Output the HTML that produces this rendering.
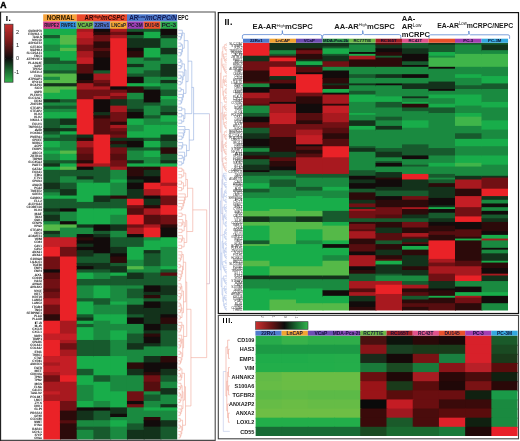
<!DOCTYPE html><html><head><meta charset="utf-8"><style>html,body{margin:0;padding:0;background:#fff;width:520px;height:441px;overflow:hidden}svg{display:block}</style></head><body><svg width="520" height="441" viewBox="0 0 520 441" font-family="'Liberation Sans', Arial, sans-serif">
<rect width="520" height="441" fill="#fff"/>
<defs><linearGradient id="cb1" x1="0" y1="0" x2="0" y2="1"><stop offset="0" stop-color="#c9302f"/><stop offset="0.3" stop-color="#7a1a1a"/><stop offset="0.59" stop-color="#0c0c0c"/><stop offset="0.8" stop-color="#1a6a30"/><stop offset="1" stop-color="#33b44c"/></linearGradient><linearGradient id="cb3" x1="0" y1="0" x2="1" y2="0"><stop offset="0" stop-color="#c9302f"/><stop offset="0.3" stop-color="#6a1616"/><stop offset="0.55" stop-color="#0c0c0c"/><stop offset="0.78" stop-color="#1a6a30"/><stop offset="1" stop-color="#33b44c"/></linearGradient></defs>
<text x="0.3" y="7.6" font-size="8.6" font-weight="bold" fill="#000" stroke="#000" stroke-width="0.45">A</text>
<text x="5.75 8.5" y="20.7" font-size="8" font-weight="bold" fill="#000" stroke="#000" stroke-width="0.15">I.</text>
<rect x="4.6" y="24.2" width="8.4" height="58" fill="url(#cb1)" stroke="#333" stroke-width="0.7"/>
<text x="16" y="34.3" font-size="5.6" fill="#222">2</text>
<rect x="4.6" y="32" width="1.2" height="0.5" fill="#444"/>
<rect x="11.8" y="32" width="1.2" height="0.5" fill="#444"/>
<text x="16" y="47.4" font-size="5.6" fill="#222">1</text>
<rect x="4.6" y="45.1" width="1.2" height="0.5" fill="#444"/>
<rect x="11.8" y="45.1" width="1.2" height="0.5" fill="#444"/>
<text x="16" y="60.4" font-size="5.6" fill="#222">0</text>
<rect x="4.6" y="58.1" width="1.2" height="0.5" fill="#444"/>
<rect x="11.8" y="58.1" width="1.2" height="0.5" fill="#444"/>
<text x="14.2" y="74" font-size="5.6" fill="#222">-1</text>
<rect x="4.6" y="71.7" width="1.2" height="0.5" fill="#444"/>
<rect x="11.8" y="71.7" width="1.2" height="0.5" fill="#444"/>
<rect x="43.2" y="14.3" width="33.6" height="7.2" fill="#f6a23a"/>
<rect x="76.7" y="14.3" width="50.4" height="7.2" fill="#ec4a2c"/>
<rect x="127" y="14.3" width="50.2" height="7.2" fill="#4f7bcc"/>
<text x="60.5" y="20.4" font-size="6.3" font-weight="bold" text-anchor="middle" fill="#2a1a00" textLength="27.6" lengthAdjust="spacingAndGlyphs">NORMAL</text>
<text x="84.6" y="20.4" font-size="6.3" font-weight="bold" fill="#300606" textLength="40" lengthAdjust="spacingAndGlyphs">AR<tspan font-size="3.4" dy="-2.5">High</tspan><tspan dy="2.5" font-style="italic">/mCSPC</tspan></text>
<text x="129.2" y="20.4" font-size="6.3" font-weight="bold" fill="#121850" textLength="47.6" lengthAdjust="spacingAndGlyphs">AR<tspan font-size="3.4" dy="-2.5">Low</tspan><tspan dy="2.5" font-style="italic">/mCRPC/N</tspan></text>
<text x="177.9" y="20.4" font-size="6.3" font-weight="bold" fill="#111" textLength="10.6" lengthAdjust="spacingAndGlyphs">EPC</text>
<rect x="43.2" y="21.5" width="16.8" height="7.6" fill="#d63d8e"/>
<text x="51.58" y="27.3" font-size="4.8" font-weight="bold" text-anchor="middle" fill="#1a1a2a" textLength="14.8" lengthAdjust="spacingAndGlyphs">RWPE2</text>
<rect x="59.95" y="21.5" width="16.8" height="7.6" fill="#2f8fdc"/>
<text x="68.33" y="27.3" font-size="4.8" font-weight="bold" text-anchor="middle" fill="#1a1a2a" textLength="14.8" lengthAdjust="spacingAndGlyphs">RWPE1</text>
<rect x="76.7" y="21.5" width="16.8" height="7.6" fill="#6cb946"/>
<text x="85.08" y="27.3" font-size="4.8" font-weight="bold" text-anchor="middle" fill="#1a1a2a" textLength="14.8" lengthAdjust="spacingAndGlyphs">VCAP</text>
<rect x="93.45" y="21.5" width="16.8" height="7.6" fill="#4d72c8"/>
<text x="101.83" y="27.3" font-size="4.8" font-weight="bold" text-anchor="middle" fill="#1a1a2a" textLength="14.8" lengthAdjust="spacingAndGlyphs">22Rv1</text>
<rect x="110.2" y="21.5" width="16.8" height="7.6" fill="#f2a431"/>
<text x="118.58" y="27.3" font-size="4.8" font-weight="bold" text-anchor="middle" fill="#1a1a2a" textLength="14.8" lengthAdjust="spacingAndGlyphs">LNCaP</text>
<rect x="126.95" y="21.5" width="16.8" height="7.6" fill="#9a3db2"/>
<text x="135.32" y="27.3" font-size="4.8" font-weight="bold" text-anchor="middle" fill="#1a1a2a" textLength="14.8" lengthAdjust="spacingAndGlyphs">PC-3M</text>
<rect x="143.7" y="21.5" width="16.8" height="7.6" fill="#e9502b"/>
<text x="152.07" y="27.3" font-size="4.8" font-weight="bold" text-anchor="middle" fill="#1a1a2a" textLength="14.8" lengthAdjust="spacingAndGlyphs">DU145</text>
<rect x="160.45" y="21.5" width="16.8" height="7.6" fill="#2aa84c"/>
<text x="168.82" y="27.3" font-size="4.8" font-weight="bold" text-anchor="middle" fill="#1a1a2a" textLength="14.8" lengthAdjust="spacingAndGlyphs">PC-3</text>
<clipPath id="c432"><rect x="43.2" y="28.6" width="134" height="410.9"/></clipPath><g clip-path="url(#c432)">
<rect x="43.2" y="28.6" width="17.75" height="7.42" fill="#18ad4a"/>
<rect x="43.2" y="35.02" width="17.75" height="4.21" fill="#175a2d"/>
<rect x="43.2" y="38.23" width="17.75" height="7.42" fill="#18ad4a"/>
<rect x="43.2" y="44.65" width="17.75" height="7.42" fill="#1a8a40"/>
<rect x="43.2" y="51.07" width="17.75" height="7.42" fill="#18ad4a"/>
<rect x="43.2" y="57.49" width="17.75" height="7.42" fill="#175a2d"/>
<rect x="43.2" y="63.91" width="17.75" height="7.42" fill="#1a8a40"/>
<rect x="43.2" y="70.33" width="17.75" height="4.21" fill="#175a2d"/>
<rect x="43.2" y="73.54" width="17.75" height="4.21" fill="#55b948"/>
<rect x="43.2" y="76.75" width="17.75" height="4.21" fill="#1a8a40"/>
<rect x="43.2" y="79.96" width="17.75" height="4.21" fill="#55b948"/>
<rect x="43.2" y="83.17" width="17.75" height="4.21" fill="#13321b"/>
<rect x="43.2" y="86.38" width="17.75" height="7.42" fill="#55b948"/>
<rect x="43.2" y="92.8" width="17.75" height="7.42" fill="#18ad4a"/>
<rect x="43.2" y="99.22" width="17.75" height="4.21" fill="#13321b"/>
<rect x="43.2" y="102.43" width="17.75" height="4.21" fill="#1a8a40"/>
<rect x="43.2" y="105.64" width="17.75" height="4.21" fill="#175a2d"/>
<rect x="43.2" y="108.85" width="17.75" height="4.21" fill="#1a8a40"/>
<rect x="43.2" y="112.06" width="17.75" height="7.42" fill="#18ad4a"/>
<rect x="43.2" y="118.48" width="17.75" height="10.63" fill="#175a2d"/>
<rect x="43.2" y="128.11" width="17.75" height="4.21" fill="#13321b"/>
<rect x="43.2" y="131.32" width="17.75" height="4.21" fill="#175a2d"/>
<rect x="43.2" y="134.53" width="17.75" height="4.21" fill="#1a8a40"/>
<rect x="43.2" y="137.74" width="17.75" height="4.21" fill="#175a2d"/>
<rect x="43.2" y="140.95" width="17.75" height="7.42" fill="#18ad4a"/>
<rect x="43.2" y="147.37" width="17.75" height="4.21" fill="#1a8a40"/>
<rect x="43.2" y="150.58" width="17.75" height="4.21" fill="#18ad4a"/>
<rect x="43.2" y="153.79" width="17.75" height="7.42" fill="#1a8a40"/>
<rect x="43.2" y="160.21" width="17.75" height="4.21" fill="#175a2d"/>
<rect x="43.2" y="163.42" width="17.75" height="4.21" fill="#13321b"/>
<rect x="43.2" y="166.63" width="17.75" height="4.21" fill="#18ad4a"/>
<rect x="43.2" y="169.84" width="17.75" height="13.84" fill="#175a2d"/>
<rect x="43.2" y="182.68" width="17.75" height="7.42" fill="#13321b"/>
<rect x="43.2" y="189.1" width="17.75" height="4.21" fill="#175a2d"/>
<rect x="43.2" y="192.31" width="17.75" height="4.21" fill="#1a8a40"/>
<rect x="43.2" y="195.52" width="17.75" height="4.21" fill="#18ad4a"/>
<rect x="43.2" y="198.73" width="17.75" height="10.63" fill="#175a2d"/>
<rect x="43.2" y="208.36" width="17.75" height="4.21" fill="#13321b"/>
<rect x="43.2" y="211.57" width="17.75" height="4.21" fill="#175a2d"/>
<rect x="43.2" y="214.78" width="17.75" height="7.42" fill="#13321b"/>
<rect x="43.2" y="221.2" width="17.75" height="4.21" fill="#1a8a40"/>
<rect x="43.2" y="224.41" width="17.75" height="7.42" fill="#55b948"/>
<rect x="43.2" y="230.83" width="17.75" height="4.21" fill="#13321b"/>
<rect x="43.2" y="234.04" width="17.75" height="4.21" fill="#175a2d"/>
<rect x="43.2" y="237.25" width="17.75" height="10.63" fill="#c41e25"/>
<rect x="43.2" y="246.88" width="17.75" height="10.63" fill="#ea2227"/>
<rect x="43.2" y="256.51" width="17.75" height="13.84" fill="#711014"/>
<rect x="43.2" y="269.35" width="17.75" height="4.21" fill="#120b0b"/>
<rect x="43.2" y="272.56" width="17.75" height="7.42" fill="#560d0f"/>
<rect x="43.2" y="278.98" width="17.75" height="10.63" fill="#711014"/>
<rect x="43.2" y="288.61" width="17.75" height="4.21" fill="#560d0f"/>
<rect x="43.2" y="291.82" width="17.75" height="7.42" fill="#711014"/>
<rect x="43.2" y="298.24" width="17.75" height="7.42" fill="#a8191f"/>
<rect x="43.2" y="304.66" width="17.75" height="10.63" fill="#711014"/>
<rect x="43.2" y="314.29" width="17.75" height="7.42" fill="#2c0a0a"/>
<rect x="43.2" y="320.71" width="17.75" height="13.84" fill="#ea2227"/>
<rect x="43.2" y="333.55" width="17.75" height="7.42" fill="#c41e25"/>
<rect x="43.2" y="339.97" width="17.75" height="17.05" fill="#ea2227"/>
<rect x="43.2" y="356.02" width="17.75" height="7.42" fill="#c41e25"/>
<rect x="43.2" y="362.44" width="17.75" height="4.21" fill="#a8191f"/>
<rect x="43.2" y="365.65" width="17.75" height="7.42" fill="#c41e25"/>
<rect x="43.2" y="372.07" width="17.75" height="4.21" fill="#a8191f"/>
<rect x="43.2" y="375.28" width="17.75" height="7.42" fill="#711014"/>
<rect x="43.2" y="381.7" width="17.75" height="10.63" fill="#a8191f"/>
<rect x="43.2" y="391.33" width="17.75" height="4.21" fill="#c41e25"/>
<rect x="43.2" y="394.54" width="17.75" height="7.42" fill="#a8191f"/>
<rect x="43.2" y="400.96" width="17.75" height="39.52" fill="#ea2227"/>
<rect x="59.95" y="28.6" width="17.75" height="7.42" fill="#18ad4a"/>
<rect x="59.95" y="35.02" width="17.75" height="10.63" fill="#55b948"/>
<rect x="59.95" y="44.65" width="17.75" height="4.21" fill="#18ad4a"/>
<rect x="59.95" y="47.86" width="17.75" height="4.21" fill="#55b948"/>
<rect x="59.95" y="51.07" width="17.75" height="10.63" fill="#18ad4a"/>
<rect x="59.95" y="60.7" width="17.75" height="4.21" fill="#175a2d"/>
<rect x="59.95" y="63.91" width="17.75" height="7.42" fill="#1a8a40"/>
<rect x="59.95" y="70.33" width="17.75" height="4.21" fill="#175a2d"/>
<rect x="59.95" y="73.54" width="17.75" height="10.63" fill="#55b948"/>
<rect x="59.95" y="83.17" width="17.75" height="4.21" fill="#13321b"/>
<rect x="59.95" y="86.38" width="17.75" height="4.21" fill="#55b948"/>
<rect x="59.95" y="89.59" width="17.75" height="10.63" fill="#18ad4a"/>
<rect x="59.95" y="99.22" width="17.75" height="4.21" fill="#175a2d"/>
<rect x="59.95" y="102.43" width="17.75" height="4.21" fill="#1a8a40"/>
<rect x="59.95" y="105.64" width="17.75" height="4.21" fill="#175a2d"/>
<rect x="59.95" y="108.85" width="17.75" height="4.21" fill="#1a8a40"/>
<rect x="59.95" y="112.06" width="17.75" height="7.42" fill="#18ad4a"/>
<rect x="59.95" y="118.48" width="17.75" height="7.42" fill="#13321b"/>
<rect x="59.95" y="124.9" width="17.75" height="4.21" fill="#1a8a40"/>
<rect x="59.95" y="128.11" width="17.75" height="4.21" fill="#13321b"/>
<rect x="59.95" y="131.32" width="17.75" height="4.21" fill="#18ad4a"/>
<rect x="59.95" y="134.53" width="17.75" height="7.42" fill="#175a2d"/>
<rect x="59.95" y="140.95" width="17.75" height="10.63" fill="#1a8a40"/>
<rect x="59.95" y="150.58" width="17.75" height="4.21" fill="#55b948"/>
<rect x="59.95" y="153.79" width="17.75" height="7.42" fill="#18ad4a"/>
<rect x="59.95" y="160.21" width="17.75" height="4.21" fill="#175a2d"/>
<rect x="59.95" y="163.42" width="17.75" height="4.21" fill="#18ad4a"/>
<rect x="59.95" y="166.63" width="17.75" height="4.21" fill="#55b948"/>
<rect x="59.95" y="169.84" width="17.75" height="7.42" fill="#175a2d"/>
<rect x="59.95" y="176.26" width="17.75" height="7.42" fill="#1a8a40"/>
<rect x="59.95" y="182.68" width="17.75" height="7.42" fill="#175a2d"/>
<rect x="59.95" y="189.1" width="17.75" height="7.42" fill="#13321b"/>
<rect x="59.95" y="195.52" width="17.75" height="4.21" fill="#18ad4a"/>
<rect x="59.95" y="198.73" width="17.75" height="10.63" fill="#175a2d"/>
<rect x="59.95" y="208.36" width="17.75" height="4.21" fill="#120b0b"/>
<rect x="59.95" y="211.57" width="17.75" height="10.63" fill="#1a8a40"/>
<rect x="59.95" y="221.2" width="17.75" height="4.21" fill="#120b0b"/>
<rect x="59.95" y="224.41" width="17.75" height="4.21" fill="#55b948"/>
<rect x="59.95" y="227.62" width="17.75" height="10.63" fill="#1a8a40"/>
<rect x="59.95" y="237.25" width="17.75" height="10.63" fill="#c41e25"/>
<rect x="59.95" y="246.88" width="17.75" height="10.63" fill="#711014"/>
<rect x="59.95" y="256.51" width="17.75" height="65.2" fill="#ea2227"/>
<rect x="59.95" y="320.71" width="17.75" height="13.84" fill="#a8191f"/>
<rect x="59.95" y="333.55" width="17.75" height="7.42" fill="#c41e25"/>
<rect x="59.95" y="339.97" width="17.75" height="4.21" fill="#a8191f"/>
<rect x="59.95" y="343.18" width="17.75" height="7.42" fill="#711014"/>
<rect x="59.95" y="349.6" width="17.75" height="7.42" fill="#a8191f"/>
<rect x="59.95" y="356.02" width="17.75" height="20.26" fill="#c41e25"/>
<rect x="59.95" y="375.28" width="17.75" height="7.42" fill="#ea2227"/>
<rect x="59.95" y="381.7" width="17.75" height="20.26" fill="#a8191f"/>
<rect x="59.95" y="400.96" width="17.75" height="10.63" fill="#711014"/>
<rect x="59.95" y="410.59" width="17.75" height="10.63" fill="#2c0a0a"/>
<rect x="59.95" y="420.22" width="17.75" height="4.21" fill="#560d0f"/>
<rect x="59.95" y="423.43" width="17.75" height="17.05" fill="#2c0a0a"/>
<rect x="76.7" y="28.6" width="17.75" height="4.21" fill="#a8191f"/>
<rect x="76.7" y="31.81" width="17.75" height="7.42" fill="#c41e25"/>
<rect x="76.7" y="38.23" width="17.75" height="7.42" fill="#a8191f"/>
<rect x="76.7" y="44.65" width="17.75" height="7.42" fill="#711014"/>
<rect x="76.7" y="51.07" width="17.75" height="7.42" fill="#a8191f"/>
<rect x="76.7" y="57.49" width="17.75" height="7.42" fill="#c41e25"/>
<rect x="76.7" y="63.91" width="17.75" height="10.63" fill="#560d0f"/>
<rect x="76.7" y="73.54" width="17.75" height="7.42" fill="#120b0b"/>
<rect x="76.7" y="79.96" width="17.75" height="4.21" fill="#2c0a0a"/>
<rect x="76.7" y="83.17" width="17.75" height="7.42" fill="#a8191f"/>
<rect x="76.7" y="89.59" width="17.75" height="10.63" fill="#711014"/>
<rect x="76.7" y="99.22" width="17.75" height="36.31" fill="#ea2227"/>
<rect x="76.7" y="134.53" width="17.75" height="4.21" fill="#13321b"/>
<rect x="76.7" y="137.74" width="17.75" height="4.21" fill="#2c0a0a"/>
<rect x="76.7" y="140.95" width="17.75" height="7.42" fill="#a8191f"/>
<rect x="76.7" y="147.37" width="17.75" height="7.42" fill="#711014"/>
<rect x="76.7" y="153.79" width="17.75" height="7.42" fill="#560d0f"/>
<rect x="76.7" y="160.21" width="17.75" height="4.21" fill="#2c0a0a"/>
<rect x="76.7" y="163.42" width="17.75" height="4.21" fill="#a8191f"/>
<rect x="76.7" y="166.63" width="17.75" height="4.21" fill="#120b0b"/>
<rect x="76.7" y="169.84" width="17.75" height="7.42" fill="#175a2d"/>
<rect x="76.7" y="176.26" width="17.75" height="4.21" fill="#13321b"/>
<rect x="76.7" y="179.47" width="17.75" height="4.21" fill="#1a8a40"/>
<rect x="76.7" y="182.68" width="17.75" height="20.26" fill="#18ad4a"/>
<rect x="76.7" y="201.94" width="17.75" height="7.42" fill="#175a2d"/>
<rect x="76.7" y="208.36" width="17.75" height="17.05" fill="#18ad4a"/>
<rect x="76.7" y="224.41" width="17.75" height="4.21" fill="#13321b"/>
<rect x="76.7" y="227.62" width="17.75" height="7.42" fill="#1a8a40"/>
<rect x="76.7" y="234.04" width="17.75" height="4.21" fill="#120b0b"/>
<rect x="76.7" y="237.25" width="17.75" height="4.21" fill="#2c0a0a"/>
<rect x="76.7" y="240.46" width="17.75" height="4.21" fill="#120b0b"/>
<rect x="76.7" y="243.67" width="17.75" height="4.21" fill="#13321b"/>
<rect x="76.7" y="246.88" width="17.75" height="4.21" fill="#120b0b"/>
<rect x="76.7" y="250.09" width="17.75" height="7.42" fill="#13321b"/>
<rect x="76.7" y="256.51" width="17.75" height="7.42" fill="#175a2d"/>
<rect x="76.7" y="262.93" width="17.75" height="4.21" fill="#13321b"/>
<rect x="76.7" y="266.14" width="17.75" height="4.21" fill="#120b0b"/>
<rect x="76.7" y="269.35" width="17.75" height="4.21" fill="#175a2d"/>
<rect x="76.7" y="272.56" width="17.75" height="7.42" fill="#18ad4a"/>
<rect x="76.7" y="278.98" width="17.75" height="7.42" fill="#175a2d"/>
<rect x="76.7" y="285.4" width="17.75" height="13.84" fill="#1a8a40"/>
<rect x="76.7" y="298.24" width="17.75" height="4.21" fill="#175a2d"/>
<rect x="76.7" y="301.45" width="17.75" height="13.84" fill="#18ad4a"/>
<rect x="76.7" y="314.29" width="17.75" height="4.21" fill="#175a2d"/>
<rect x="76.7" y="317.5" width="17.75" height="4.21" fill="#13321b"/>
<rect x="76.7" y="320.71" width="17.75" height="4.21" fill="#18ad4a"/>
<rect x="76.7" y="323.92" width="17.75" height="4.21" fill="#175a2d"/>
<rect x="76.7" y="327.13" width="17.75" height="13.84" fill="#18ad4a"/>
<rect x="76.7" y="339.97" width="17.75" height="17.05" fill="#175a2d"/>
<rect x="76.7" y="356.02" width="17.75" height="13.84" fill="#18ad4a"/>
<rect x="76.7" y="368.86" width="17.75" height="7.42" fill="#175a2d"/>
<rect x="76.7" y="375.28" width="17.75" height="10.63" fill="#18ad4a"/>
<rect x="76.7" y="384.91" width="17.75" height="17.05" fill="#1a8a40"/>
<rect x="76.7" y="400.96" width="17.75" height="7.42" fill="#18ad4a"/>
<rect x="76.7" y="407.38" width="17.75" height="4.21" fill="#120b0b"/>
<rect x="76.7" y="410.59" width="17.75" height="10.63" fill="#13321b"/>
<rect x="76.7" y="420.22" width="17.75" height="7.42" fill="#1a8a40"/>
<rect x="76.7" y="426.64" width="17.75" height="4.21" fill="#175a2d"/>
<rect x="76.7" y="429.85" width="17.75" height="10.63" fill="#1a8a40"/>
<rect x="93.45" y="28.6" width="17.75" height="4.21" fill="#120b0b"/>
<rect x="93.45" y="31.81" width="17.75" height="4.21" fill="#2c0a0a"/>
<rect x="93.45" y="35.02" width="17.75" height="7.42" fill="#711014"/>
<rect x="93.45" y="41.44" width="17.75" height="7.42" fill="#2c0a0a"/>
<rect x="93.45" y="47.86" width="17.75" height="4.21" fill="#560d0f"/>
<rect x="93.45" y="51.07" width="17.75" height="7.42" fill="#2c0a0a"/>
<rect x="93.45" y="57.49" width="17.75" height="13.84" fill="#120b0b"/>
<rect x="93.45" y="70.33" width="17.75" height="4.21" fill="#175a2d"/>
<rect x="93.45" y="73.54" width="17.75" height="7.42" fill="#a8191f"/>
<rect x="93.45" y="79.96" width="17.75" height="4.21" fill="#711014"/>
<rect x="93.45" y="83.17" width="17.75" height="4.21" fill="#560d0f"/>
<rect x="93.45" y="86.38" width="17.75" height="4.21" fill="#a8191f"/>
<rect x="93.45" y="89.59" width="17.75" height="7.42" fill="#711014"/>
<rect x="93.45" y="96.01" width="17.75" height="4.21" fill="#a8191f"/>
<rect x="93.45" y="99.22" width="17.75" height="13.84" fill="#120b0b"/>
<rect x="93.45" y="112.06" width="17.75" height="4.21" fill="#13321b"/>
<rect x="93.45" y="115.27" width="17.75" height="4.21" fill="#2c0a0a"/>
<rect x="93.45" y="118.48" width="17.75" height="17.05" fill="#560d0f"/>
<rect x="93.45" y="134.53" width="17.75" height="29.89" fill="#ea2227"/>
<rect x="93.45" y="163.42" width="17.75" height="4.21" fill="#a8191f"/>
<rect x="93.45" y="166.63" width="17.75" height="17.05" fill="#175a2d"/>
<rect x="93.45" y="182.68" width="17.75" height="13.84" fill="#18ad4a"/>
<rect x="93.45" y="195.52" width="17.75" height="7.42" fill="#13321b"/>
<rect x="93.45" y="201.94" width="17.75" height="7.42" fill="#175a2d"/>
<rect x="93.45" y="208.36" width="17.75" height="17.05" fill="#18ad4a"/>
<rect x="93.45" y="224.41" width="17.75" height="7.42" fill="#120b0b"/>
<rect x="93.45" y="230.83" width="17.75" height="4.21" fill="#175a2d"/>
<rect x="93.45" y="234.04" width="17.75" height="4.21" fill="#13321b"/>
<rect x="93.45" y="237.25" width="17.75" height="17.05" fill="#120b0b"/>
<rect x="93.45" y="253.3" width="17.75" height="10.63" fill="#175a2d"/>
<rect x="93.45" y="262.93" width="17.75" height="7.42" fill="#13321b"/>
<rect x="93.45" y="269.35" width="17.75" height="4.21" fill="#175a2d"/>
<rect x="93.45" y="272.56" width="17.75" height="7.42" fill="#1a8a40"/>
<rect x="93.45" y="278.98" width="17.75" height="7.42" fill="#175a2d"/>
<rect x="93.45" y="285.4" width="17.75" height="13.84" fill="#18ad4a"/>
<rect x="93.45" y="298.24" width="17.75" height="7.42" fill="#175a2d"/>
<rect x="93.45" y="304.66" width="17.75" height="10.63" fill="#1a8a40"/>
<rect x="93.45" y="314.29" width="17.75" height="7.42" fill="#18ad4a"/>
<rect x="93.45" y="320.71" width="17.75" height="20.26" fill="#1a8a40"/>
<rect x="93.45" y="339.97" width="17.75" height="17.05" fill="#175a2d"/>
<rect x="93.45" y="356.02" width="17.75" height="20.26" fill="#18ad4a"/>
<rect x="93.45" y="375.28" width="17.75" height="7.42" fill="#175a2d"/>
<rect x="93.45" y="381.7" width="17.75" height="20.26" fill="#18ad4a"/>
<rect x="93.45" y="400.96" width="17.75" height="7.42" fill="#1a8a40"/>
<rect x="93.45" y="407.38" width="17.75" height="4.21" fill="#120b0b"/>
<rect x="93.45" y="410.59" width="17.75" height="10.63" fill="#175a2d"/>
<rect x="93.45" y="420.22" width="17.75" height="7.42" fill="#1a8a40"/>
<rect x="93.45" y="426.64" width="17.75" height="13.84" fill="#175a2d"/>
<rect x="110.2" y="28.6" width="17.75" height="4.21" fill="#a8191f"/>
<rect x="110.2" y="31.81" width="17.75" height="4.21" fill="#711014"/>
<rect x="110.2" y="35.02" width="17.75" height="4.21" fill="#a8191f"/>
<rect x="110.2" y="38.23" width="17.75" height="49.15" fill="#ea2227"/>
<rect x="110.2" y="86.38" width="17.75" height="4.21" fill="#120b0b"/>
<rect x="110.2" y="89.59" width="17.75" height="4.21" fill="#711014"/>
<rect x="110.2" y="92.8" width="17.75" height="4.21" fill="#a8191f"/>
<rect x="110.2" y="96.01" width="17.75" height="4.21" fill="#711014"/>
<rect x="110.2" y="99.22" width="17.75" height="7.42" fill="#13321b"/>
<rect x="110.2" y="105.64" width="17.75" height="7.42" fill="#a8191f"/>
<rect x="110.2" y="112.06" width="17.75" height="10.63" fill="#711014"/>
<rect x="110.2" y="121.69" width="17.75" height="4.21" fill="#2c0a0a"/>
<rect x="110.2" y="124.9" width="17.75" height="4.21" fill="#a8191f"/>
<rect x="110.2" y="128.11" width="17.75" height="4.21" fill="#711014"/>
<rect x="110.2" y="131.32" width="17.75" height="4.21" fill="#560d0f"/>
<rect x="110.2" y="134.53" width="17.75" height="4.21" fill="#711014"/>
<rect x="110.2" y="137.74" width="17.75" height="4.21" fill="#13321b"/>
<rect x="110.2" y="140.95" width="17.75" height="4.21" fill="#2c0a0a"/>
<rect x="110.2" y="144.16" width="17.75" height="4.21" fill="#13321b"/>
<rect x="110.2" y="147.37" width="17.75" height="7.42" fill="#711014"/>
<rect x="110.2" y="153.79" width="17.75" height="7.42" fill="#560d0f"/>
<rect x="110.2" y="160.21" width="17.75" height="7.42" fill="#711014"/>
<rect x="110.2" y="166.63" width="17.75" height="4.21" fill="#a8191f"/>
<rect x="110.2" y="169.84" width="17.75" height="10.63" fill="#1a8a40"/>
<rect x="110.2" y="179.47" width="17.75" height="4.21" fill="#18ad4a"/>
<rect x="110.2" y="182.68" width="17.75" height="13.84" fill="#1a8a40"/>
<rect x="110.2" y="195.52" width="17.75" height="4.21" fill="#2c0a0a"/>
<rect x="110.2" y="198.73" width="17.75" height="10.63" fill="#175a2d"/>
<rect x="110.2" y="208.36" width="17.75" height="7.42" fill="#18ad4a"/>
<rect x="110.2" y="214.78" width="17.75" height="10.63" fill="#1a8a40"/>
<rect x="110.2" y="224.41" width="17.75" height="7.42" fill="#13321b"/>
<rect x="110.2" y="230.83" width="17.75" height="7.42" fill="#1a8a40"/>
<rect x="110.2" y="237.25" width="17.75" height="10.63" fill="#175a2d"/>
<rect x="110.2" y="246.88" width="17.75" height="7.42" fill="#13321b"/>
<rect x="110.2" y="253.3" width="17.75" height="4.21" fill="#120b0b"/>
<rect x="110.2" y="256.51" width="17.75" height="7.42" fill="#2c0a0a"/>
<rect x="110.2" y="262.93" width="17.75" height="4.21" fill="#175a2d"/>
<rect x="110.2" y="266.14" width="17.75" height="7.42" fill="#13321b"/>
<rect x="110.2" y="272.56" width="17.75" height="4.21" fill="#18ad4a"/>
<rect x="110.2" y="275.77" width="17.75" height="10.63" fill="#175a2d"/>
<rect x="110.2" y="285.4" width="17.75" height="17.05" fill="#1a8a40"/>
<rect x="110.2" y="301.45" width="17.75" height="4.21" fill="#18ad4a"/>
<rect x="110.2" y="304.66" width="17.75" height="10.63" fill="#1a8a40"/>
<rect x="110.2" y="314.29" width="17.75" height="10.63" fill="#18ad4a"/>
<rect x="110.2" y="323.92" width="17.75" height="7.42" fill="#1a8a40"/>
<rect x="110.2" y="330.34" width="17.75" height="10.63" fill="#18ad4a"/>
<rect x="110.2" y="339.97" width="17.75" height="17.05" fill="#1a8a40"/>
<rect x="110.2" y="356.02" width="17.75" height="20.26" fill="#18ad4a"/>
<rect x="110.2" y="375.28" width="17.75" height="17.05" fill="#1a8a40"/>
<rect x="110.2" y="391.33" width="17.75" height="17.05" fill="#18ad4a"/>
<rect x="110.2" y="407.38" width="17.75" height="7.42" fill="#13321b"/>
<rect x="110.2" y="413.8" width="17.75" height="4.21" fill="#120b0b"/>
<rect x="110.2" y="417.01" width="17.75" height="4.21" fill="#1a8a40"/>
<rect x="110.2" y="420.22" width="17.75" height="7.42" fill="#18ad4a"/>
<rect x="110.2" y="426.64" width="17.75" height="13.84" fill="#1a8a40"/>
<rect x="126.95" y="28.6" width="17.75" height="4.21" fill="#175a2d"/>
<rect x="126.95" y="31.81" width="17.75" height="4.21" fill="#120b0b"/>
<rect x="126.95" y="35.02" width="17.75" height="4.21" fill="#175a2d"/>
<rect x="126.95" y="38.23" width="17.75" height="10.63" fill="#13321b"/>
<rect x="126.95" y="47.86" width="17.75" height="4.21" fill="#120b0b"/>
<rect x="126.95" y="51.07" width="17.75" height="7.42" fill="#2c0a0a"/>
<rect x="126.95" y="57.49" width="17.75" height="7.42" fill="#1a8a40"/>
<rect x="126.95" y="63.91" width="17.75" height="4.21" fill="#13321b"/>
<rect x="126.95" y="67.12" width="17.75" height="7.42" fill="#1a8a40"/>
<rect x="126.95" y="73.54" width="17.75" height="4.21" fill="#175a2d"/>
<rect x="126.95" y="76.75" width="17.75" height="7.42" fill="#120b0b"/>
<rect x="126.95" y="83.17" width="17.75" height="4.21" fill="#18ad4a"/>
<rect x="126.95" y="86.38" width="17.75" height="7.42" fill="#2c0a0a"/>
<rect x="126.95" y="92.8" width="17.75" height="7.42" fill="#1a8a40"/>
<rect x="126.95" y="99.22" width="17.75" height="10.63" fill="#175a2d"/>
<rect x="126.95" y="108.85" width="17.75" height="4.21" fill="#13321b"/>
<rect x="126.95" y="112.06" width="17.75" height="7.42" fill="#120b0b"/>
<rect x="126.95" y="118.48" width="17.75" height="7.42" fill="#18ad4a"/>
<rect x="126.95" y="124.9" width="17.75" height="7.42" fill="#1a8a40"/>
<rect x="126.95" y="131.32" width="17.75" height="7.42" fill="#18ad4a"/>
<rect x="126.95" y="137.74" width="17.75" height="4.21" fill="#13321b"/>
<rect x="126.95" y="140.95" width="17.75" height="7.42" fill="#120b0b"/>
<rect x="126.95" y="147.37" width="17.75" height="4.21" fill="#175a2d"/>
<rect x="126.95" y="150.58" width="17.75" height="10.63" fill="#1a8a40"/>
<rect x="126.95" y="160.21" width="17.75" height="4.21" fill="#13321b"/>
<rect x="126.95" y="163.42" width="17.75" height="4.21" fill="#18ad4a"/>
<rect x="126.95" y="166.63" width="17.75" height="10.63" fill="#2c0a0a"/>
<rect x="126.95" y="176.26" width="17.75" height="4.21" fill="#120b0b"/>
<rect x="126.95" y="179.47" width="17.75" height="4.21" fill="#13321b"/>
<rect x="126.95" y="182.68" width="17.75" height="7.42" fill="#120b0b"/>
<rect x="126.95" y="189.1" width="17.75" height="10.63" fill="#13321b"/>
<rect x="126.95" y="198.73" width="17.75" height="7.42" fill="#ea2227"/>
<rect x="126.95" y="205.15" width="17.75" height="4.21" fill="#711014"/>
<rect x="126.95" y="208.36" width="17.75" height="7.42" fill="#560d0f"/>
<rect x="126.95" y="214.78" width="17.75" height="10.63" fill="#ea2227"/>
<rect x="126.95" y="224.41" width="17.75" height="4.21" fill="#711014"/>
<rect x="126.95" y="227.62" width="17.75" height="7.42" fill="#a8191f"/>
<rect x="126.95" y="234.04" width="17.75" height="4.21" fill="#120b0b"/>
<rect x="126.95" y="237.25" width="17.75" height="10.63" fill="#175a2d"/>
<rect x="126.95" y="246.88" width="17.75" height="13.84" fill="#18ad4a"/>
<rect x="126.95" y="259.72" width="17.75" height="7.42" fill="#1a8a40"/>
<rect x="126.95" y="266.14" width="17.75" height="4.21" fill="#55b948"/>
<rect x="126.95" y="269.35" width="17.75" height="4.21" fill="#1a8a40"/>
<rect x="126.95" y="272.56" width="17.75" height="7.42" fill="#13321b"/>
<rect x="126.95" y="278.98" width="17.75" height="7.42" fill="#175a2d"/>
<rect x="126.95" y="285.4" width="17.75" height="4.21" fill="#1a8a40"/>
<rect x="126.95" y="288.61" width="17.75" height="10.63" fill="#175a2d"/>
<rect x="126.95" y="298.24" width="17.75" height="7.42" fill="#1a8a40"/>
<rect x="126.95" y="304.66" width="17.75" height="10.63" fill="#13321b"/>
<rect x="126.95" y="314.29" width="17.75" height="4.21" fill="#175a2d"/>
<rect x="126.95" y="317.5" width="17.75" height="7.42" fill="#120b0b"/>
<rect x="126.95" y="323.92" width="17.75" height="10.63" fill="#1a8a40"/>
<rect x="126.95" y="333.55" width="17.75" height="10.63" fill="#175a2d"/>
<rect x="126.95" y="343.18" width="17.75" height="7.42" fill="#13321b"/>
<rect x="126.95" y="349.6" width="17.75" height="13.84" fill="#1a8a40"/>
<rect x="126.95" y="362.44" width="17.75" height="7.42" fill="#2c0a0a"/>
<rect x="126.95" y="368.86" width="17.75" height="7.42" fill="#13321b"/>
<rect x="126.95" y="375.28" width="17.75" height="17.05" fill="#1a8a40"/>
<rect x="126.95" y="391.33" width="17.75" height="10.63" fill="#711014"/>
<rect x="126.95" y="400.96" width="17.75" height="4.21" fill="#120b0b"/>
<rect x="126.95" y="404.17" width="17.75" height="4.21" fill="#711014"/>
<rect x="126.95" y="407.38" width="17.75" height="17.05" fill="#1a8a40"/>
<rect x="126.95" y="423.43" width="17.75" height="7.42" fill="#175a2d"/>
<rect x="126.95" y="429.85" width="17.75" height="10.63" fill="#13321b"/>
<rect x="143.7" y="28.6" width="17.75" height="4.21" fill="#175a2d"/>
<rect x="143.7" y="31.81" width="17.75" height="7.42" fill="#18ad4a"/>
<rect x="143.7" y="38.23" width="17.75" height="10.63" fill="#13321b"/>
<rect x="143.7" y="47.86" width="17.75" height="10.63" fill="#18ad4a"/>
<rect x="143.7" y="57.49" width="17.75" height="4.21" fill="#175a2d"/>
<rect x="143.7" y="60.7" width="17.75" height="10.63" fill="#1a8a40"/>
<rect x="143.7" y="70.33" width="17.75" height="7.42" fill="#175a2d"/>
<rect x="143.7" y="76.75" width="17.75" height="7.42" fill="#1a8a40"/>
<rect x="143.7" y="83.17" width="17.75" height="4.21" fill="#18ad4a"/>
<rect x="143.7" y="86.38" width="17.75" height="4.21" fill="#175a2d"/>
<rect x="143.7" y="89.59" width="17.75" height="13.84" fill="#120b0b"/>
<rect x="143.7" y="102.43" width="17.75" height="4.21" fill="#175a2d"/>
<rect x="143.7" y="105.64" width="17.75" height="10.63" fill="#1a8a40"/>
<rect x="143.7" y="115.27" width="17.75" height="4.21" fill="#175a2d"/>
<rect x="143.7" y="118.48" width="17.75" height="7.42" fill="#1a8a40"/>
<rect x="143.7" y="124.9" width="17.75" height="13.84" fill="#18ad4a"/>
<rect x="143.7" y="137.74" width="17.75" height="4.21" fill="#175a2d"/>
<rect x="143.7" y="140.95" width="17.75" height="7.42" fill="#18ad4a"/>
<rect x="143.7" y="147.37" width="17.75" height="4.21" fill="#175a2d"/>
<rect x="143.7" y="150.58" width="17.75" height="7.42" fill="#18ad4a"/>
<rect x="143.7" y="157" width="17.75" height="7.42" fill="#1a8a40"/>
<rect x="143.7" y="163.42" width="17.75" height="4.21" fill="#18ad4a"/>
<rect x="143.7" y="166.63" width="17.75" height="4.21" fill="#2c0a0a"/>
<rect x="143.7" y="169.84" width="17.75" height="7.42" fill="#13321b"/>
<rect x="143.7" y="176.26" width="17.75" height="7.42" fill="#120b0b"/>
<rect x="143.7" y="182.68" width="17.75" height="7.42" fill="#ea2227"/>
<rect x="143.7" y="189.1" width="17.75" height="7.42" fill="#a8191f"/>
<rect x="143.7" y="195.52" width="17.75" height="4.21" fill="#120b0b"/>
<rect x="143.7" y="198.73" width="17.75" height="7.42" fill="#13321b"/>
<rect x="143.7" y="205.15" width="17.75" height="4.21" fill="#2c0a0a"/>
<rect x="143.7" y="208.36" width="17.75" height="7.42" fill="#a8191f"/>
<rect x="143.7" y="214.78" width="17.75" height="10.63" fill="#560d0f"/>
<rect x="143.7" y="224.41" width="17.75" height="4.21" fill="#a8191f"/>
<rect x="143.7" y="227.62" width="17.75" height="10.63" fill="#ea2227"/>
<rect x="143.7" y="237.25" width="17.75" height="4.21" fill="#1a8a40"/>
<rect x="143.7" y="240.46" width="17.75" height="10.63" fill="#18ad4a"/>
<rect x="143.7" y="250.09" width="17.75" height="4.21" fill="#13321b"/>
<rect x="143.7" y="253.3" width="17.75" height="13.84" fill="#175a2d"/>
<rect x="143.7" y="266.14" width="17.75" height="7.42" fill="#1a8a40"/>
<rect x="143.7" y="272.56" width="17.75" height="13.84" fill="#175a2d"/>
<rect x="143.7" y="285.4" width="17.75" height="7.42" fill="#120b0b"/>
<rect x="143.7" y="291.82" width="17.75" height="4.21" fill="#13321b"/>
<rect x="143.7" y="295.03" width="17.75" height="4.21" fill="#2c0a0a"/>
<rect x="143.7" y="298.24" width="17.75" height="4.21" fill="#175a2d"/>
<rect x="143.7" y="301.45" width="17.75" height="7.42" fill="#120b0b"/>
<rect x="143.7" y="307.87" width="17.75" height="17.05" fill="#13321b"/>
<rect x="143.7" y="323.92" width="17.75" height="7.42" fill="#120b0b"/>
<rect x="143.7" y="330.34" width="17.75" height="4.21" fill="#13321b"/>
<rect x="143.7" y="333.55" width="17.75" height="4.21" fill="#2c0a0a"/>
<rect x="143.7" y="336.76" width="17.75" height="7.42" fill="#120b0b"/>
<rect x="143.7" y="343.18" width="17.75" height="4.21" fill="#13321b"/>
<rect x="143.7" y="346.39" width="17.75" height="10.63" fill="#1a8a40"/>
<rect x="143.7" y="356.02" width="17.75" height="7.42" fill="#13321b"/>
<rect x="143.7" y="362.44" width="17.75" height="10.63" fill="#120b0b"/>
<rect x="143.7" y="372.07" width="17.75" height="4.21" fill="#2c0a0a"/>
<rect x="143.7" y="375.28" width="17.75" height="7.42" fill="#711014"/>
<rect x="143.7" y="381.7" width="17.75" height="10.63" fill="#560d0f"/>
<rect x="143.7" y="391.33" width="17.75" height="4.21" fill="#1a8a40"/>
<rect x="143.7" y="394.54" width="17.75" height="7.42" fill="#175a2d"/>
<rect x="143.7" y="400.96" width="17.75" height="7.42" fill="#1a8a40"/>
<rect x="143.7" y="407.38" width="17.75" height="4.21" fill="#18ad4a"/>
<rect x="143.7" y="410.59" width="17.75" height="7.42" fill="#1a8a40"/>
<rect x="143.7" y="417.01" width="17.75" height="4.21" fill="#2c0a0a"/>
<rect x="143.7" y="420.22" width="17.75" height="7.42" fill="#120b0b"/>
<rect x="143.7" y="426.64" width="17.75" height="13.84" fill="#13321b"/>
<rect x="160.45" y="28.6" width="17.75" height="7.42" fill="#120b0b"/>
<rect x="160.45" y="35.02" width="17.75" height="4.21" fill="#13321b"/>
<rect x="160.45" y="38.23" width="17.75" height="10.63" fill="#1a8a40"/>
<rect x="160.45" y="47.86" width="17.75" height="7.42" fill="#13321b"/>
<rect x="160.45" y="54.28" width="17.75" height="10.63" fill="#1a8a40"/>
<rect x="160.45" y="63.91" width="17.75" height="13.84" fill="#13321b"/>
<rect x="160.45" y="76.75" width="17.75" height="4.21" fill="#1a8a40"/>
<rect x="160.45" y="79.96" width="17.75" height="4.21" fill="#13321b"/>
<rect x="160.45" y="83.17" width="17.75" height="7.42" fill="#1a8a40"/>
<rect x="160.45" y="89.59" width="17.75" height="7.42" fill="#175a2d"/>
<rect x="160.45" y="96.01" width="17.75" height="4.21" fill="#18ad4a"/>
<rect x="160.45" y="99.22" width="17.75" height="7.42" fill="#1a8a40"/>
<rect x="160.45" y="105.64" width="17.75" height="7.42" fill="#175a2d"/>
<rect x="160.45" y="112.06" width="17.75" height="4.21" fill="#13321b"/>
<rect x="160.45" y="115.27" width="17.75" height="7.42" fill="#18ad4a"/>
<rect x="160.45" y="121.69" width="17.75" height="4.21" fill="#1a8a40"/>
<rect x="160.45" y="124.9" width="17.75" height="10.63" fill="#18ad4a"/>
<rect x="160.45" y="134.53" width="17.75" height="7.42" fill="#13321b"/>
<rect x="160.45" y="140.95" width="17.75" height="7.42" fill="#175a2d"/>
<rect x="160.45" y="147.37" width="17.75" height="7.42" fill="#2c0a0a"/>
<rect x="160.45" y="153.79" width="17.75" height="7.42" fill="#175a2d"/>
<rect x="160.45" y="160.21" width="17.75" height="4.21" fill="#13321b"/>
<rect x="160.45" y="163.42" width="17.75" height="4.21" fill="#18ad4a"/>
<rect x="160.45" y="166.63" width="17.75" height="17.05" fill="#ea2227"/>
<rect x="160.45" y="182.68" width="17.75" height="4.21" fill="#a8191f"/>
<rect x="160.45" y="185.89" width="17.75" height="10.63" fill="#ea2227"/>
<rect x="160.45" y="195.52" width="17.75" height="10.63" fill="#711014"/>
<rect x="160.45" y="205.15" width="17.75" height="10.63" fill="#ea2227"/>
<rect x="160.45" y="214.78" width="17.75" height="10.63" fill="#711014"/>
<rect x="160.45" y="224.41" width="17.75" height="4.21" fill="#2c0a0a"/>
<rect x="160.45" y="227.62" width="17.75" height="10.63" fill="#120b0b"/>
<rect x="160.45" y="237.25" width="17.75" height="10.63" fill="#18ad4a"/>
<rect x="160.45" y="246.88" width="17.75" height="20.26" fill="#1a8a40"/>
<rect x="160.45" y="266.14" width="17.75" height="4.21" fill="#18ad4a"/>
<rect x="160.45" y="269.35" width="17.75" height="4.21" fill="#175a2d"/>
<rect x="160.45" y="272.56" width="17.75" height="4.21" fill="#560d0f"/>
<rect x="160.45" y="275.77" width="17.75" height="10.63" fill="#175a2d"/>
<rect x="160.45" y="285.4" width="17.75" height="10.63" fill="#13321b"/>
<rect x="160.45" y="295.03" width="17.75" height="7.42" fill="#175a2d"/>
<rect x="160.45" y="301.45" width="17.75" height="13.84" fill="#13321b"/>
<rect x="160.45" y="314.29" width="17.75" height="4.21" fill="#120b0b"/>
<rect x="160.45" y="317.5" width="17.75" height="7.42" fill="#2c0a0a"/>
<rect x="160.45" y="323.92" width="17.75" height="7.42" fill="#13321b"/>
<rect x="160.45" y="330.34" width="17.75" height="17.05" fill="#175a2d"/>
<rect x="160.45" y="346.39" width="17.75" height="10.63" fill="#1a8a40"/>
<rect x="160.45" y="356.02" width="17.75" height="7.42" fill="#2c0a0a"/>
<rect x="160.45" y="362.44" width="17.75" height="7.42" fill="#120b0b"/>
<rect x="160.45" y="368.86" width="17.75" height="7.42" fill="#13321b"/>
<rect x="160.45" y="375.28" width="17.75" height="7.42" fill="#175a2d"/>
<rect x="160.45" y="381.7" width="17.75" height="7.42" fill="#1a8a40"/>
<rect x="160.45" y="388.12" width="17.75" height="7.42" fill="#13321b"/>
<rect x="160.45" y="394.54" width="17.75" height="10.63" fill="#1a8a40"/>
<rect x="160.45" y="404.17" width="17.75" height="4.21" fill="#13321b"/>
<rect x="160.45" y="407.38" width="17.75" height="4.21" fill="#18ad4a"/>
<rect x="160.45" y="410.59" width="17.75" height="10.63" fill="#1a8a40"/>
<rect x="160.45" y="420.22" width="17.75" height="7.42" fill="#13321b"/>
<rect x="160.45" y="426.64" width="17.75" height="13.84" fill="#175a2d"/>
</g>
<text x="42" y="32" font-size="3.3" font-weight="bold" text-anchor="end" fill="#111" text-rendering="geometricPrecision" textLength="13.65" lengthAdjust="spacingAndGlyphs">SNRNP70</text>
<text x="42" y="35" font-size="3.3" font-weight="bold" text-anchor="end" fill="#111" text-rendering="geometricPrecision" textLength="13.65" lengthAdjust="spacingAndGlyphs">ERVK3-1</text>
<text x="42" y="38" font-size="3.3" font-weight="bold" text-anchor="end" fill="#111" text-rendering="geometricPrecision" textLength="9.75" lengthAdjust="spacingAndGlyphs">TAGLN</text>
<text x="42" y="41" font-size="3.3" font-weight="bold" text-anchor="end" fill="#111" text-rendering="geometricPrecision" textLength="9.75" lengthAdjust="spacingAndGlyphs">MYO1D</text>
<text x="42" y="44" font-size="3.3" font-weight="bold" text-anchor="end" fill="#111" text-rendering="geometricPrecision" textLength="13.65" lengthAdjust="spacingAndGlyphs">ARHGEF2</text>
<text x="42" y="48" font-size="3.3" font-weight="bold" text-anchor="end" fill="#111" text-rendering="geometricPrecision" textLength="11.7" lengthAdjust="spacingAndGlyphs">GTF3C6</text>
<text x="42" y="51" font-size="3.3" font-weight="bold" text-anchor="end" fill="#111" text-rendering="geometricPrecision" textLength="11.7" lengthAdjust="spacingAndGlyphs">MAP4K4</text>
<text x="42" y="54" font-size="3.3" font-weight="bold" text-anchor="end" fill="#111" text-rendering="geometricPrecision" textLength="15.5" lengthAdjust="spacingAndGlyphs">SLC25A11</text>
<text x="42" y="57" font-size="3.3" font-weight="bold" text-anchor="end" fill="#111" text-rendering="geometricPrecision" textLength="7.8" lengthAdjust="spacingAndGlyphs">EMC1</text>
<text x="42" y="60" font-size="3.3" font-weight="bold" text-anchor="end" fill="#111" text-rendering="geometricPrecision" textLength="15.5" lengthAdjust="spacingAndGlyphs">ATP6V0E1</text>
<text x="42" y="64" font-size="3.3" font-weight="bold" text-anchor="end" fill="#111" text-rendering="geometricPrecision" textLength="13.65" lengthAdjust="spacingAndGlyphs">PLA2G4F</text>
<text x="42" y="67" font-size="3.3" font-weight="bold" text-anchor="end" fill="#111" text-rendering="geometricPrecision" textLength="7.8" lengthAdjust="spacingAndGlyphs">GAMT</text>
<text x="42" y="70" font-size="3.3" font-weight="bold" text-anchor="end" fill="#111" text-rendering="geometricPrecision" textLength="9.75" lengthAdjust="spacingAndGlyphs">TPD52</text>
<text x="42" y="73" font-size="3.3" font-weight="bold" text-anchor="end" fill="#111" text-rendering="geometricPrecision" textLength="11.7" lengthAdjust="spacingAndGlyphs">UBE2L3</text>
<text x="42" y="77" font-size="3.3" font-weight="bold" text-anchor="end" fill="#111" text-rendering="geometricPrecision" textLength="7.8" lengthAdjust="spacingAndGlyphs">EDN1</text>
<text x="42" y="80" font-size="3.3" font-weight="bold" text-anchor="end" fill="#111" text-rendering="geometricPrecision" textLength="13.65" lengthAdjust="spacingAndGlyphs">ATP6AP1</text>
<text x="42" y="83" font-size="3.3" font-weight="bold" text-anchor="end" fill="#111" text-rendering="geometricPrecision" textLength="9.75" lengthAdjust="spacingAndGlyphs">IPO13</text>
<text x="42" y="86" font-size="3.3" font-weight="bold" text-anchor="end" fill="#111" text-rendering="geometricPrecision" textLength="11.7" lengthAdjust="spacingAndGlyphs">BCAP31</text>
<text x="42" y="89" font-size="3.3" font-weight="bold" text-anchor="end" fill="#111" text-rendering="geometricPrecision" textLength="7.5" lengthAdjust="spacingAndGlyphs">SCD</text>
<text x="42" y="93" font-size="3.3" font-weight="bold" text-anchor="end" fill="#111" text-rendering="geometricPrecision" textLength="7.8" lengthAdjust="spacingAndGlyphs">GMPR</text>
<text x="42" y="96" font-size="3.3" font-weight="bold" text-anchor="end" fill="#111" text-rendering="geometricPrecision" textLength="11.7" lengthAdjust="spacingAndGlyphs">PLEKH1</text>
<text x="42" y="99" font-size="3.3" font-weight="bold" text-anchor="end" fill="#111" text-rendering="geometricPrecision" textLength="13.65" lengthAdjust="spacingAndGlyphs">SLC12A7</text>
<text x="42" y="102" font-size="3.3" font-weight="bold" text-anchor="end" fill="#111" text-rendering="geometricPrecision" textLength="7.8" lengthAdjust="spacingAndGlyphs">DDX3</text>
<text x="42" y="105" font-size="3.3" font-weight="bold" text-anchor="end" fill="#111" text-rendering="geometricPrecision" textLength="11.7" lengthAdjust="spacingAndGlyphs">ZNF589</text>
<text x="42" y="109" font-size="3.3" font-weight="bold" text-anchor="end" fill="#111" text-rendering="geometricPrecision" textLength="11.7" lengthAdjust="spacingAndGlyphs">STEAP1</text>
<text x="42" y="112" font-size="3.3" font-weight="bold" text-anchor="end" fill="#111" text-rendering="geometricPrecision" textLength="11.7" lengthAdjust="spacingAndGlyphs">STEAP2</text>
<text x="42" y="115" font-size="3.3" font-weight="bold" text-anchor="end" fill="#111" text-rendering="geometricPrecision" textLength="7.8" lengthAdjust="spacingAndGlyphs">KLK3</text>
<text x="42" y="118" font-size="3.3" font-weight="bold" text-anchor="end" fill="#111" text-rendering="geometricPrecision" textLength="7.8" lengthAdjust="spacingAndGlyphs">KLK2</text>
<text x="42" y="121" font-size="3.3" font-weight="bold" text-anchor="end" fill="#111" text-rendering="geometricPrecision" textLength="11.7" lengthAdjust="spacingAndGlyphs">NKX3-1</text>
<text x="42" y="125" font-size="3.3" font-weight="bold" text-anchor="end" fill="#111" text-rendering="geometricPrecision" textLength="9.75" lengthAdjust="spacingAndGlyphs">FOLH1</text>
<text x="42" y="128" font-size="3.3" font-weight="bold" text-anchor="end" fill="#111" text-rendering="geometricPrecision" textLength="13.65" lengthAdjust="spacingAndGlyphs">TMPRSS2</text>
<text x="42" y="131" font-size="3.3" font-weight="bold" text-anchor="end" fill="#111" text-rendering="geometricPrecision" textLength="7.5" lengthAdjust="spacingAndGlyphs">AR</text>
<text x="42" y="134" font-size="3.3" font-weight="bold" text-anchor="end" fill="#111" text-rendering="geometricPrecision" textLength="11.7" lengthAdjust="spacingAndGlyphs">HOXB13</text>
<text x="42" y="138" font-size="3.3" font-weight="bold" text-anchor="end" fill="#111" text-rendering="geometricPrecision" textLength="11.7" lengthAdjust="spacingAndGlyphs">PMEPA1</text>
<text x="42" y="141" font-size="3.3" font-weight="bold" text-anchor="end" fill="#111" text-rendering="geometricPrecision" textLength="9.75" lengthAdjust="spacingAndGlyphs">SPDEF</text>
<text x="42" y="144" font-size="3.3" font-weight="bold" text-anchor="end" fill="#111" text-rendering="geometricPrecision" textLength="9.75" lengthAdjust="spacingAndGlyphs">NDRG1</text>
<text x="42" y="147" font-size="3.3" font-weight="bold" text-anchor="end" fill="#111" text-rendering="geometricPrecision" textLength="7.8" lengthAdjust="spacingAndGlyphs">ACPP</text>
<text x="42" y="150" font-size="3.3" font-weight="bold" text-anchor="end" fill="#111" text-rendering="geometricPrecision" textLength="9.75" lengthAdjust="spacingAndGlyphs">FKBP5</text>
<text x="42" y="154" font-size="3.3" font-weight="bold" text-anchor="end" fill="#111" text-rendering="geometricPrecision" textLength="9.75" lengthAdjust="spacingAndGlyphs">ABCC4</text>
<text x="42" y="157" font-size="3.3" font-weight="bold" text-anchor="end" fill="#111" text-rendering="geometricPrecision" textLength="11.7" lengthAdjust="spacingAndGlyphs">ZBTB16</text>
<text x="42" y="160" font-size="3.3" font-weight="bold" text-anchor="end" fill="#111" text-rendering="geometricPrecision" textLength="9.75" lengthAdjust="spacingAndGlyphs">TRPM8</text>
<text x="42" y="163" font-size="3.3" font-weight="bold" text-anchor="end" fill="#111" text-rendering="geometricPrecision" textLength="13.65" lengthAdjust="spacingAndGlyphs">SLC45A3</text>
<text x="42" y="166" font-size="3.3" font-weight="bold" text-anchor="end" fill="#111" text-rendering="geometricPrecision" textLength="9.75" lengthAdjust="spacingAndGlyphs">PART1</text>
<text x="42" y="170" font-size="3.3" font-weight="bold" text-anchor="end" fill="#111" text-rendering="geometricPrecision" textLength="9.75" lengthAdjust="spacingAndGlyphs">GATA2</text>
<text x="42" y="173" font-size="3.3" font-weight="bold" text-anchor="end" fill="#111" text-rendering="geometricPrecision" textLength="9.75" lengthAdjust="spacingAndGlyphs">FOXA1</text>
<text x="42" y="176" font-size="3.3" font-weight="bold" text-anchor="end" fill="#111" text-rendering="geometricPrecision" textLength="7.5" lengthAdjust="spacingAndGlyphs">ERG</text>
<text x="42" y="179" font-size="3.3" font-weight="bold" text-anchor="end" fill="#111" text-rendering="geometricPrecision" textLength="7.8" lengthAdjust="spacingAndGlyphs">ETV1</text>
<text x="42" y="182" font-size="3.3" font-weight="bold" text-anchor="end" fill="#111" text-rendering="geometricPrecision" textLength="9.75" lengthAdjust="spacingAndGlyphs">SPON2</text>
<text x="42" y="186" font-size="3.3" font-weight="bold" text-anchor="end" fill="#111" text-rendering="geometricPrecision" textLength="9.75" lengthAdjust="spacingAndGlyphs">AMACR</text>
<text x="42" y="189" font-size="3.3" font-weight="bold" text-anchor="end" fill="#111" text-rendering="geometricPrecision" textLength="7.8" lengthAdjust="spacingAndGlyphs">PCA3</text>
<text x="42" y="192" font-size="3.3" font-weight="bold" text-anchor="end" fill="#111" text-rendering="geometricPrecision" textLength="11.7" lengthAdjust="spacingAndGlyphs">TMEFF2</text>
<text x="42" y="195" font-size="3.3" font-weight="bold" text-anchor="end" fill="#111" text-rendering="geometricPrecision" textLength="9.75" lengthAdjust="spacingAndGlyphs">GREB1</text>
<text x="42" y="199" font-size="3.3" font-weight="bold" text-anchor="end" fill="#111" text-rendering="geometricPrecision" textLength="11.7" lengthAdjust="spacingAndGlyphs">CAMKK2</text>
<text x="42" y="202" font-size="3.3" font-weight="bold" text-anchor="end" fill="#111" text-rendering="geometricPrecision" textLength="7.8" lengthAdjust="spacingAndGlyphs">ELL2</text>
<text x="42" y="205" font-size="3.3" font-weight="bold" text-anchor="end" fill="#111" text-rendering="geometricPrecision" textLength="13.65" lengthAdjust="spacingAndGlyphs">ALDH1A3</text>
<text x="42" y="208" font-size="3.3" font-weight="bold" text-anchor="end" fill="#111" text-rendering="geometricPrecision" textLength="15.5" lengthAdjust="spacingAndGlyphs">C1ORF116</text>
<text x="42" y="211" font-size="3.3" font-weight="bold" text-anchor="end" fill="#111" text-rendering="geometricPrecision" textLength="7.8" lengthAdjust="spacingAndGlyphs">KLK4</text>
<text x="42" y="215" font-size="3.3" font-weight="bold" text-anchor="end" fill="#111" text-rendering="geometricPrecision" textLength="7.5" lengthAdjust="spacingAndGlyphs">MAF</text>
<text x="42" y="218" font-size="3.3" font-weight="bold" text-anchor="end" fill="#111" text-rendering="geometricPrecision" textLength="7.8" lengthAdjust="spacingAndGlyphs">TBX3</text>
<text x="42" y="221" font-size="3.3" font-weight="bold" text-anchor="end" fill="#111" text-rendering="geometricPrecision" textLength="7.8" lengthAdjust="spacingAndGlyphs">SGK1</text>
<text x="42" y="224" font-size="3.3" font-weight="bold" text-anchor="end" fill="#111" text-rendering="geometricPrecision" textLength="9.75" lengthAdjust="spacingAndGlyphs">CENPN</text>
<text x="42" y="227" font-size="3.3" font-weight="bold" text-anchor="end" fill="#111" text-rendering="geometricPrecision" textLength="7.8" lengthAdjust="spacingAndGlyphs">HPGD</text>
<text x="42" y="231" font-size="3.3" font-weight="bold" text-anchor="end" fill="#111" text-rendering="geometricPrecision" textLength="11.7" lengthAdjust="spacingAndGlyphs">STEAP4</text>
<text x="42" y="234" font-size="3.3" font-weight="bold" text-anchor="end" fill="#111" text-rendering="geometricPrecision" textLength="7.8" lengthAdjust="spacingAndGlyphs">ODC1</text>
<text x="42" y="237" font-size="3.3" font-weight="bold" text-anchor="end" fill="#111" text-rendering="geometricPrecision" textLength="13.65" lengthAdjust="spacingAndGlyphs">ADAMTS1</text>
<text x="42" y="240" font-size="3.3" font-weight="bold" text-anchor="end" fill="#111" text-rendering="geometricPrecision" textLength="7.5" lengthAdjust="spacingAndGlyphs">VIM</text>
<text x="42" y="243" font-size="3.3" font-weight="bold" text-anchor="end" fill="#111" text-rendering="geometricPrecision" textLength="7.8" lengthAdjust="spacingAndGlyphs">CD44</text>
<text x="42" y="247" font-size="3.3" font-weight="bold" text-anchor="end" fill="#111" text-rendering="geometricPrecision" textLength="7.8" lengthAdjust="spacingAndGlyphs">CAV1</text>
<text x="42" y="250" font-size="3.3" font-weight="bold" text-anchor="end" fill="#111" text-rendering="geometricPrecision" textLength="7.8" lengthAdjust="spacingAndGlyphs">CAV2</text>
<text x="42" y="253" font-size="3.3" font-weight="bold" text-anchor="end" fill="#111" text-rendering="geometricPrecision" textLength="9.75" lengthAdjust="spacingAndGlyphs">ANXA1</text>
<text x="42" y="256" font-size="3.3" font-weight="bold" text-anchor="end" fill="#111" text-rendering="geometricPrecision" textLength="9.75" lengthAdjust="spacingAndGlyphs">ANXA2</text>
<text x="42" y="260" font-size="3.3" font-weight="bold" text-anchor="end" fill="#111" text-rendering="geometricPrecision" textLength="11.7" lengthAdjust="spacingAndGlyphs">S100A6</text>
<text x="42" y="263" font-size="3.3" font-weight="bold" text-anchor="end" fill="#111" text-rendering="geometricPrecision" textLength="11.7" lengthAdjust="spacingAndGlyphs">LGALS1</text>
<text x="42" y="266" font-size="3.3" font-weight="bold" text-anchor="end" fill="#111" text-rendering="geometricPrecision" textLength="9.75" lengthAdjust="spacingAndGlyphs">TGFBI</text>
<text x="42" y="269" font-size="3.3" font-weight="bold" text-anchor="end" fill="#111" text-rendering="geometricPrecision" textLength="7.8" lengthAdjust="spacingAndGlyphs">EMP1</text>
<text x="42" y="272" font-size="3.3" font-weight="bold" text-anchor="end" fill="#111" text-rendering="geometricPrecision" textLength="7.8" lengthAdjust="spacingAndGlyphs">EMP3</text>
<text x="42" y="276" font-size="3.3" font-weight="bold" text-anchor="end" fill="#111" text-rendering="geometricPrecision" textLength="7.5" lengthAdjust="spacingAndGlyphs">AXL</text>
<text x="42" y="279" font-size="3.3" font-weight="bold" text-anchor="end" fill="#111" text-rendering="geometricPrecision" textLength="9.75" lengthAdjust="spacingAndGlyphs">CD109</text>
<text x="42" y="282" font-size="3.3" font-weight="bold" text-anchor="end" fill="#111" text-rendering="geometricPrecision" textLength="7.8" lengthAdjust="spacingAndGlyphs">HAS3</text>
<text x="42" y="285" font-size="3.3" font-weight="bold" text-anchor="end" fill="#111" text-rendering="geometricPrecision" textLength="9.75" lengthAdjust="spacingAndGlyphs">AHNAK</text>
<text x="42" y="288" font-size="3.3" font-weight="bold" text-anchor="end" fill="#111" text-rendering="geometricPrecision" textLength="11.7" lengthAdjust="spacingAndGlyphs">AHNAK2</text>
<text x="42" y="292" font-size="3.3" font-weight="bold" text-anchor="end" fill="#111" text-rendering="geometricPrecision" textLength="7.8" lengthAdjust="spacingAndGlyphs">MYOF</text>
<text x="42" y="295" font-size="3.3" font-weight="bold" text-anchor="end" fill="#111" text-rendering="geometricPrecision" textLength="7.8" lengthAdjust="spacingAndGlyphs">KRT7</text>
<text x="42" y="298" font-size="3.3" font-weight="bold" text-anchor="end" fill="#111" text-rendering="geometricPrecision" textLength="9.75" lengthAdjust="spacingAndGlyphs">KRT18</text>
<text x="42" y="301" font-size="3.3" font-weight="bold" text-anchor="end" fill="#111" text-rendering="geometricPrecision" textLength="9.75" lengthAdjust="spacingAndGlyphs">LAMB3</text>
<text x="42" y="304" font-size="3.3" font-weight="bold" text-anchor="end" fill="#111" text-rendering="geometricPrecision" textLength="9.75" lengthAdjust="spacingAndGlyphs">LAMC2</text>
<text x="42" y="308" font-size="3.3" font-weight="bold" text-anchor="end" fill="#111" text-rendering="geometricPrecision" textLength="9.75" lengthAdjust="spacingAndGlyphs">ITGB4</text>
<text x="42" y="311" font-size="3.3" font-weight="bold" text-anchor="end" fill="#111" text-rendering="geometricPrecision" textLength="7.8" lengthAdjust="spacingAndGlyphs">TNS4</text>
<text x="42" y="314" font-size="3.3" font-weight="bold" text-anchor="end" fill="#111" text-rendering="geometricPrecision" textLength="15.5" lengthAdjust="spacingAndGlyphs">SERPINE1</text>
<text x="42" y="317" font-size="3.3" font-weight="bold" text-anchor="end" fill="#111" text-rendering="geometricPrecision" textLength="7.8" lengthAdjust="spacingAndGlyphs">PLAU</text>
<text x="42" y="320" font-size="3.3" font-weight="bold" text-anchor="end" fill="#111" text-rendering="geometricPrecision" textLength="9.75" lengthAdjust="spacingAndGlyphs">PLAUR</text>
<text x="42" y="324" font-size="3.3" font-weight="bold" text-anchor="end" fill="#111" text-rendering="geometricPrecision" textLength="7.5" lengthAdjust="spacingAndGlyphs">F3</text>
<text x="42" y="327" font-size="3.3" font-weight="bold" text-anchor="end" fill="#111" text-rendering="geometricPrecision" textLength="7.5" lengthAdjust="spacingAndGlyphs">IL6</text>
<text x="42" y="330" font-size="3.3" font-weight="bold" text-anchor="end" fill="#111" text-rendering="geometricPrecision" textLength="9.75" lengthAdjust="spacingAndGlyphs">CXCL8</text>
<text x="42" y="333" font-size="3.3" font-weight="bold" text-anchor="end" fill="#111" text-rendering="geometricPrecision" textLength="9.75" lengthAdjust="spacingAndGlyphs">CXCL1</text>
<text x="42" y="337" font-size="3.3" font-weight="bold" text-anchor="end" fill="#111" text-rendering="geometricPrecision" textLength="7.8" lengthAdjust="spacingAndGlyphs">MMP1</text>
<text x="42" y="340" font-size="3.3" font-weight="bold" text-anchor="end" fill="#111" text-rendering="geometricPrecision" textLength="9.75" lengthAdjust="spacingAndGlyphs">TIMP1</text>
<text x="42" y="343" font-size="3.3" font-weight="bold" text-anchor="end" fill="#111" text-rendering="geometricPrecision" textLength="9.75" lengthAdjust="spacingAndGlyphs">SPARC</text>
<text x="42" y="346" font-size="3.3" font-weight="bold" text-anchor="end" fill="#111" text-rendering="geometricPrecision" textLength="11.7" lengthAdjust="spacingAndGlyphs">COL4A1</text>
<text x="42" y="349" font-size="3.3" font-weight="bold" text-anchor="end" fill="#111" text-rendering="geometricPrecision" textLength="11.7" lengthAdjust="spacingAndGlyphs">COL4A2</text>
<text x="42" y="353" font-size="3.3" font-weight="bold" text-anchor="end" fill="#111" text-rendering="geometricPrecision" textLength="7.5" lengthAdjust="spacingAndGlyphs">FN1</text>
<text x="42" y="356" font-size="3.3" font-weight="bold" text-anchor="end" fill="#111" text-rendering="geometricPrecision" textLength="9.75" lengthAdjust="spacingAndGlyphs">THBS1</text>
<text x="42" y="359" font-size="3.3" font-weight="bold" text-anchor="end" fill="#111" text-rendering="geometricPrecision" textLength="7.8" lengthAdjust="spacingAndGlyphs">CTGF</text>
<text x="42" y="362" font-size="3.3" font-weight="bold" text-anchor="end" fill="#111" text-rendering="geometricPrecision" textLength="9.75" lengthAdjust="spacingAndGlyphs">CYR61</text>
<text x="42" y="365" font-size="3.3" font-weight="bold" text-anchor="end" fill="#111" text-rendering="geometricPrecision" textLength="11.7" lengthAdjust="spacingAndGlyphs">ANKRD1</text>
<text x="42" y="369" font-size="3.3" font-weight="bold" text-anchor="end" fill="#111" text-rendering="geometricPrecision" textLength="7.8" lengthAdjust="spacingAndGlyphs">EGFR</text>
<text x="42" y="372" font-size="3.3" font-weight="bold" text-anchor="end" fill="#111" text-rendering="geometricPrecision" textLength="7.5" lengthAdjust="spacingAndGlyphs">MET</text>
<text x="42" y="375" font-size="3.3" font-weight="bold" text-anchor="end" fill="#111" text-rendering="geometricPrecision" textLength="11.7" lengthAdjust="spacingAndGlyphs">CDKN2A</text>
<text x="42" y="378" font-size="3.3" font-weight="bold" text-anchor="end" fill="#111" text-rendering="geometricPrecision" textLength="7.8" lengthAdjust="spacingAndGlyphs">TPM1</text>
<text x="42" y="381" font-size="3.3" font-weight="bold" text-anchor="end" fill="#111" text-rendering="geometricPrecision" textLength="7.8" lengthAdjust="spacingAndGlyphs">TPM2</text>
<text x="42" y="385" font-size="3.3" font-weight="bold" text-anchor="end" fill="#111" text-rendering="geometricPrecision" textLength="7.5" lengthAdjust="spacingAndGlyphs">MSN</text>
<text x="42" y="388" font-size="3.3" font-weight="bold" text-anchor="end" fill="#111" text-rendering="geometricPrecision" textLength="7.8" lengthAdjust="spacingAndGlyphs">FLNA</text>
<text x="42" y="391" font-size="3.3" font-weight="bold" text-anchor="end" fill="#111" text-rendering="geometricPrecision" textLength="9.75" lengthAdjust="spacingAndGlyphs">CALD1</text>
<text x="42" y="394" font-size="3.3" font-weight="bold" text-anchor="end" fill="#111" text-rendering="geometricPrecision" textLength="11.7" lengthAdjust="spacingAndGlyphs">TAGLN2</text>
<text x="42" y="398" font-size="3.3" font-weight="bold" text-anchor="end" fill="#111" text-rendering="geometricPrecision" textLength="11.7" lengthAdjust="spacingAndGlyphs">PDLIM7</text>
<text x="42" y="401" font-size="3.3" font-weight="bold" text-anchor="end" fill="#111" text-rendering="geometricPrecision" textLength="7.8" lengthAdjust="spacingAndGlyphs">LMO7</text>
<text x="42" y="404" font-size="3.3" font-weight="bold" text-anchor="end" fill="#111" text-rendering="geometricPrecision" textLength="7.5" lengthAdjust="spacingAndGlyphs">ZYX</text>
<text x="42" y="407" font-size="3.3" font-weight="bold" text-anchor="end" fill="#111" text-rendering="geometricPrecision" textLength="7.8" lengthAdjust="spacingAndGlyphs">DKK1</text>
<text x="42" y="410" font-size="3.3" font-weight="bold" text-anchor="end" fill="#111" text-rendering="geometricPrecision" textLength="7.8" lengthAdjust="spacingAndGlyphs">SLPI</text>
<text x="42" y="414" font-size="3.3" font-weight="bold" text-anchor="end" fill="#111" text-rendering="geometricPrecision" textLength="11.7" lengthAdjust="spacingAndGlyphs">PRSS23</text>
<text x="42" y="417" font-size="3.3" font-weight="bold" text-anchor="end" fill="#111" text-rendering="geometricPrecision" textLength="7.8" lengthAdjust="spacingAndGlyphs">GPX8</text>
<text x="42" y="420" font-size="3.3" font-weight="bold" text-anchor="end" fill="#111" text-rendering="geometricPrecision" textLength="11.7" lengthAdjust="spacingAndGlyphs">CCDC80</text>
<text x="42" y="423" font-size="3.3" font-weight="bold" text-anchor="end" fill="#111" text-rendering="geometricPrecision" textLength="7.8" lengthAdjust="spacingAndGlyphs">NNMT</text>
<text x="42" y="426" font-size="3.3" font-weight="bold" text-anchor="end" fill="#111" text-rendering="geometricPrecision" textLength="7.8" lengthAdjust="spacingAndGlyphs">KYNU</text>
<text x="42" y="430" font-size="3.3" font-weight="bold" text-anchor="end" fill="#111" text-rendering="geometricPrecision" textLength="9.75" lengthAdjust="spacingAndGlyphs">RAB31</text>
<text x="42" y="433" font-size="3.3" font-weight="bold" text-anchor="end" fill="#111" text-rendering="geometricPrecision" textLength="9.75" lengthAdjust="spacingAndGlyphs">UCHL1</text>
<text x="42" y="436" font-size="3.3" font-weight="bold" text-anchor="end" fill="#111" text-rendering="geometricPrecision" textLength="7.5" lengthAdjust="spacingAndGlyphs">SYP</text>
<text x="42" y="439" font-size="3.3" font-weight="bold" text-anchor="end" fill="#111" text-rendering="geometricPrecision" textLength="7.8" lengthAdjust="spacingAndGlyphs">CHGA</text>
<path d="M178.4 36.62H180.72 M178.4 39.84H180.72 M180.72 36.62V39.84 M178.4 33.41H181.52 M180.72 38.23H181.52 M181.52 33.41V38.23 M178.4 30.21H182.32 M181.52 35.82H182.32 M182.32 30.21V35.82 M178.4 43.05H181.1 M178.4 46.26H181.1 M181.1 43.05V46.26 M178.4 52.67H180.89 M178.4 55.89H180.89 M180.89 52.67V55.89 M178.4 49.47H181.69 M180.89 54.28H181.69 M181.69 49.47V54.28 M181.1 44.65H182.49 M181.69 51.87H182.49 M182.49 44.65V51.87 M182.32 33.01H184.24 M182.49 48.26H184.24 M184.24 33.01V48.26 M178.4 59.09H180.72 M178.4 62.3H180.72 M180.72 59.09V62.3 M178.4 65.52H180.94 M178.4 68.72H180.94 M180.94 65.52V68.72 M180.72 60.7H181.94 M180.94 67.12H181.94 M181.94 60.7V67.12 M178.4 75.15H180.99 M178.4 78.36H180.99 M180.99 75.15V78.36 M178.4 81.56H180.99 M178.4 84.78H180.99 M180.99 81.56V84.78 M180.99 76.75H182.31 M180.99 83.17H182.31 M182.31 76.75V83.17 M178.4 71.94H183.11 M182.31 79.96H183.11 M183.11 71.94V79.96 M181.94 63.91H184.4 M183.11 75.95H184.4 M184.4 63.91V75.95 M178.4 87.98H181.05 M178.4 91.19H181.05 M181.05 87.98V91.19 M178.4 100.82H181.09 M178.4 104.03H181.09 M181.09 100.82V104.03 M178.4 97.62H181.89 M181.09 102.43H181.89 M181.89 97.62V102.43 M178.4 94.41H182.69 M181.89 100.02H182.69 M182.69 94.41V100.02 M181.05 89.59H183.49 M182.69 97.21H183.49 M183.49 89.59V97.21 M184.4 69.93H185.98 M183.49 93.4H185.98 M185.98 69.93V93.4 M184.24 40.64H188.02 M185.98 81.67H188.02 M188.02 40.64V81.67" stroke="#86a6dc" stroke-width="0.55" fill="none"/>
<path d="M178.4 107.25H181.77 M178.4 110.46H181.77 M181.77 107.25V110.46 M178.4 113.66H181.84 M178.4 116.88H181.84 M181.84 113.66V116.88 M178.4 120.09H181.82 M178.4 123.29H181.82 M181.82 120.09V123.29 M181.84 115.27H183.78 M181.82 121.69H183.78 M183.78 115.27V121.69 M181.77 108.85H184.92 M183.78 118.48H184.92 M184.92 108.85V118.48" stroke="#86a6dc" stroke-width="0.55" fill="none"/>
<path d="M188.02 61.15H191.8V113.66H184.92" stroke="#86a6dc" stroke-width="0.55" fill="none"/>
<path d="M178.4 136.13H182.01 M178.4 139.34H182.01 M182.01 136.13V139.34 M178.4 132.93H183.29 M182.01 137.74H183.29 M183.29 132.93V137.74 M178.4 129.72H184.09 M183.29 135.33H184.09 M184.09 129.72V135.33 M178.4 126.5H184.89 M184.09 132.52H184.89 M184.89 126.5V132.52 M178.4 145.76H181.87 M178.4 148.97H181.87 M181.87 145.76V148.97 M178.4 142.56H182.69 M181.87 147.37H182.69 M182.69 142.56V147.37 M178.4 155.4H182.25 M178.4 158.6H182.25 M182.25 155.4V158.6 M178.4 161.81H181.89 M178.4 165.03H181.89 M181.89 161.81V165.03 M182.25 157H183.6 M181.89 163.42H183.6 M183.6 157V163.42 M178.4 152.19H184.6 M183.6 160.21H184.6 M184.6 152.19V160.21 M182.69 144.96H186.56 M184.6 156.2H186.56 M186.56 144.96V156.2 M184.89 129.51H189.26 M186.56 150.58H189.26 M189.26 129.51V150.58" stroke="#86a6dc" stroke-width="0.55" fill="none"/>
<path d="M191.8 87.41H193.6V140.05H189.26 M193.6 113.73H209.5" stroke="#86a6dc" stroke-width="0.55" fill="none"/>
<path d="M178.4 168.23H182.04 M178.4 171.44H182.04 M182.04 168.23V171.44 M178.4 174.66H181.79 M178.4 177.86H181.79 M181.79 174.66V177.86 M182.04 169.84H183.75 M181.79 176.26H183.75 M183.75 169.84V176.26 M178.4 181.07H181.59 M178.4 184.28H181.59 M181.59 181.07V184.28 M178.4 187.5H181.67 M178.4 190.7H181.67 M181.67 187.5V190.7 M181.59 182.68H183.42 M181.67 189.1H183.42 M183.42 182.68V189.1 M183.75 173.05H185.79 M183.42 185.89H185.79 M185.79 173.05V185.89 M178.4 206.75H181.62 M178.4 209.97H181.62 M181.62 206.75V209.97 M178.4 203.54H182.86 M181.62 208.36H182.86 M182.86 203.54V208.36 M178.4 200.33H183.66 M182.86 205.95H183.66 M183.66 200.33V205.95 M178.4 197.12H184.46 M183.66 203.14H184.46 M184.46 197.12V203.14 M178.4 193.91H185.26 M184.46 200.13H185.26 M185.26 193.91V200.13 M185.79 179.47H187.53 M185.26 197.02H187.53 M187.53 179.47V197.02 M178.4 213.17H182.07 M178.4 216.38H182.07 M182.07 213.17V216.38 M178.4 222.8H181.83 M178.4 226.01H181.83 M181.83 222.8V226.01 M178.4 219.59H182.78 M181.83 224.41H182.78 M182.78 219.59V224.41 M178.4 229.22H182.05 M178.4 232.44H182.05 M182.05 229.22V232.44 M182.78 222H184.21 M182.05 230.83H184.21 M184.21 222V230.83 M182.07 214.78H185.7 M184.21 226.42H185.7 M185.7 214.78V226.42 M178.4 238.85H181.62 M178.4 242.06H181.62 M181.62 238.85V242.06 M178.4 235.64H182.42 M181.62 240.46H182.42 M182.42 235.64V240.46 M178.4 245.28H181.7 M178.4 248.48H181.7 M181.7 245.28V248.48 M182.42 238.05H184.13 M181.7 246.88H184.13 M184.13 238.05V246.88 M185.7 220.6H186.79 M184.13 242.47H186.79 M186.79 220.6V242.47 M187.53 188.25H192.77 M186.79 231.53H192.77 M192.77 188.25V231.53" stroke="#f0a090" stroke-width="0.55" fill="none"/>
<path d="M178.4 258.12H180.29 M178.4 261.32H180.29 M180.29 258.12V261.32 M178.4 254.91H181.09 M180.29 259.72H181.09 M181.09 254.91V259.72 M178.4 251.69H181.89 M181.09 257.31H181.89 M181.89 251.69V257.31 M178.4 264.54H180.28 M178.4 267.75H180.28 M180.28 264.54V267.75 M178.4 277.38H180.12 M178.4 280.58H180.12 M180.12 277.38V280.58 M178.4 274.17H180.92 M180.12 278.98H180.92 M180.92 274.17V278.98 M178.4 270.95H181.72 M180.92 276.57H181.72 M181.72 270.95V276.57 M180.28 266.14H182.52 M181.72 273.76H182.52 M182.52 266.14V273.76 M181.89 254.5H183.32 M182.52 269.95H183.32 M183.32 254.5V269.95 M178.4 287H180.3 M178.4 290.22H180.3 M180.3 287V290.22 M178.4 283.8H181.1 M180.3 288.61H181.1 M181.1 283.8V288.61 M178.4 296.64H180.12 M178.4 299.85H180.12 M180.12 296.64V299.85 M178.4 293.43H180.92 M180.12 298.24H180.92 M180.92 293.43V298.24 M181.1 286.2H181.9 M180.92 295.83H181.9 M181.9 286.2V295.83 M178.4 303.06H180.26 M178.4 306.27H180.26 M180.26 303.06V306.27 M178.4 309.48H180.34 M178.4 312.69H180.34 M180.34 309.48V312.69 M180.26 304.66H181.23 M180.34 311.08H181.23 M181.23 304.66V311.08 M178.4 315.9H180.25 M178.4 319.11H180.25 M180.25 315.9V319.11 M181.23 307.87H182.03 M180.25 317.5H182.03 M182.03 307.87V317.5 M181.9 291.02H183.49 M182.03 312.69H183.49 M183.49 291.02V312.69 M183.32 262.23H185.7 M183.49 301.85H185.7 M185.7 262.23V301.85 M178.4 328.74H180.24 M178.4 331.94H180.24 M180.24 328.74V331.94 M178.4 325.53H181.04 M180.24 330.34H181.04 M181.04 325.53V330.34 M178.4 322.31H181.84 M181.04 327.93H181.84 M181.84 322.31V327.93 M178.4 338.37H180.12 M178.4 341.58H180.12 M180.12 338.37V341.58 M178.4 344.79H180.11 M178.4 348H180.11 M180.11 344.79V348 M180.12 339.97H180.93 M180.11 346.39H180.93 M180.93 339.97V346.39 M178.4 335.16H181.73 M180.93 343.18H181.73 M181.73 335.16V343.18 M178.4 351.21H180.29 M178.4 354.42H180.29 M180.29 351.21V354.42 M178.4 360.84H180.33 M178.4 364.05H180.33 M180.33 360.84V364.05 M178.4 357.62H181.13 M180.33 362.44H181.13 M181.13 357.62V362.44 M180.29 352.81H181.93 M181.13 360.03H181.93 M181.93 352.81V360.03 M181.73 339.17H182.73 M181.93 356.42H182.73 M182.73 339.17V356.42 M181.84 325.12H183.59 M182.73 347.79H183.59 M183.59 325.12V347.79 M185.7 282.04H186.74 M183.59 336.46H186.74 M186.74 282.04V336.46 M178.4 367.25H180.18 M178.4 370.47H180.18 M180.18 367.25V370.47 M178.4 373.68H180.35 M178.4 376.88H180.35 M180.35 373.68V376.88 M180.35 375.28H181.15 M178.4 380.1H181.15 M181.15 375.28V380.1 M180.18 368.86H181.95 M181.15 377.69H181.95 M181.95 368.86V377.69 M178.4 386.52H180.22 M178.4 389.73H180.22 M180.22 386.52V389.73 M178.4 383.31H181.02 M180.22 388.12H181.02 M181.02 383.31V388.12 M178.4 392.94H180.09 M178.4 396.15H180.09 M180.09 392.94V396.15 M178.4 399.36H180.14 M178.4 402.56H180.14 M180.14 399.36V402.56 M180.09 394.54H181.05 M180.14 400.96H181.05 M181.05 394.54V400.96 M181.02 385.71H182.17 M181.05 397.75H182.17 M182.17 385.71V397.75 M178.4 412.19H180.24 M178.4 415.41H180.24 M180.24 412.19V415.41 M178.4 408.99H181.04 M180.24 413.8H181.04 M181.04 408.99V413.8 M178.4 405.78H181.84 M181.04 411.39H181.84 M181.84 405.78V411.39 M182.17 391.73H182.99 M181.84 408.58H182.99 M182.99 391.73V408.58 M181.95 373.27H184.48 M182.99 400.16H184.48 M184.48 373.27V400.16 M178.4 418.62H180.32 M178.4 421.83H180.32 M180.32 418.62V421.83 M178.4 425.04H180.2 M178.4 428.25H180.2 M180.2 425.04V428.25 M178.4 434.67H180.18 M178.4 437.88H180.18 M180.18 434.67V437.88 M178.4 431.46H180.98 M180.18 436.27H180.98 M180.98 431.46V436.27 M180.2 426.64H181.78 M180.98 433.86H181.78 M181.78 426.64V433.86 M180.32 420.22H182.58 M181.78 430.25H182.58 M182.58 420.22V430.25 M184.48 386.72H185.52 M182.58 425.24H185.52 M185.52 386.72V425.24 M186.74 309.25H190.94 M185.52 405.98H190.94 M190.94 309.25V405.98" stroke="#f0a090" stroke-width="0.55" fill="none"/>
<path d="M192.77 209.89H206.7V357.61H190.94" stroke="#f0a090" stroke-width="0.55" fill="none"/>
<path d="M206.7 283.75H209.5V113.73" stroke="#c8a0b8" stroke-width="0.55" fill="none"/>
<path d="M0.5 440.4V12H215.2V440.4Z" stroke="#4a4a4a" stroke-width="1.1" fill="none"/>
<rect x="0" y="12" width="1.1" height="429" fill="#222"/>
<rect x="218.3" y="12.6" width="300.2" height="300.9" stroke="#111" stroke-width="1.2" fill="none"/>
<text x="224.5 227.1 230.1" y="24.8" font-size="8.8" font-weight="bold" fill="#000">II.</text>
<text x="252.6" y="29.4" font-size="7.6" font-weight="bold" fill="#1a1a1a">EA-AR<tspan font-size="4.03" dy="-2.7" font-weight="normal">High</tspan><tspan dy="2.7">mCSPC</tspan></text>
<text x="334.2" y="28.8" font-size="7.6" font-weight="bold" fill="#1a1a1a">AA-AR<tspan font-size="4.03" dy="-2.7" font-weight="normal">High</tspan><tspan dy="2.7">mCSPC</tspan></text>
<text x="401.8" y="21" font-size="7.6" font-weight="bold" fill="#1a1a1a">AA-</text>
<text x="401.8" y="29.2" font-size="7.6" font-weight="bold" fill="#1a1a1a">AR<tspan font-size="4.71" dy="-2.7" font-weight="normal">Low</tspan><tspan dy="2.7"></tspan></text>
<text x="401.8" y="37.4" font-size="7.6" font-weight="bold" fill="#1a1a1a">mCRPC</text>
<text x="437.2" y="28" font-size="7.6" font-weight="bold" fill="#1a1a1a" textLength="76" lengthAdjust="spacingAndGlyphs">EA-AR<tspan font-size="4.71" dy="-2.7" font-weight="normal">Low</tspan><tspan dy="2.7">mCRPC/NEPC</tspan></text>
<path d="M242.4 38.8 V36.2 Q242.4 34.6 244 34.6 H280.7 Q282.3 34.6 282.3 33 V30.6 Q282.3 34.6 283.9 34.6 H320.2 Q321.8 34.6 321.8 36.2 V38.8" stroke="#5b86d0" stroke-width="0.8" fill="none"/>
<path d="M322.6 38.8 V36.2 Q322.6 34.6 324.2 34.6 H361.1 Q362.7 34.6 362.7 33 V30.6 Q362.7 34.6 364.3 34.6 H399.2 Q400.8 34.6 400.8 36.2 V38.8" stroke="#5b86d0" stroke-width="0.8" fill="none"/>
<path d="M429 38.8 V36.4 Q429 34.8 430.6 34.8 H467.2 Q468.8 34.8 468.8 33.2 V31 Q468.8 34.8 470.4 34.8 H508 Q509.6 34.8 509.6 36.4 V38.8" stroke="#5b86d0" stroke-width="0.8" fill="none"/>
<rect x="243" y="38.7" width="26.55" height="4.1" fill="#4f7bcc"/>
<text x="256.25" y="42.3" font-size="4.3" font-weight="bold" text-anchor="middle" fill="#101030">22Rv1</text>
<rect x="269.5" y="38.7" width="26.55" height="4.1" fill="#f2a431"/>
<text x="282.75" y="42.3" font-size="4.3" font-weight="bold" text-anchor="middle" fill="#101030">LnCAP</text>
<rect x="296" y="38.7" width="26.55" height="4.1" fill="#6d4db3"/>
<text x="309.25" y="42.3" font-size="4.3" font-weight="bold" text-anchor="middle" fill="#101030">VCaP</text>
<rect x="322.5" y="38.7" width="26.55" height="4.1" fill="#2c9a44"/>
<text x="335.75" y="42.3" font-size="4.3" font-weight="bold" text-anchor="middle" fill="#101030">MDA-Pca-2b</text>
<rect x="349" y="38.7" width="26.55" height="4.1" fill="#6cb946"/>
<text x="362.25" y="42.3" font-size="4.3" font-weight="bold" text-anchor="middle" fill="#101030">RC77T/E</text>
<rect x="375.5" y="38.7" width="26.55" height="4.1" fill="#a31d24"/>
<text x="388.75" y="42.3" font-size="4.3" font-weight="bold" text-anchor="middle" fill="#101030">RC165T</text>
<rect x="402" y="38.7" width="26.55" height="4.1" fill="#e2528c"/>
<text x="415.25" y="42.3" font-size="4.3" font-weight="bold" text-anchor="middle" fill="#101030">RC43T</text>
<rect x="428.5" y="38.7" width="26.55" height="4.1" fill="#e9502b"/>
<rect x="455" y="38.7" width="26.55" height="4.1" fill="#a33fb2"/>
<text x="468.25" y="42.3" font-size="4.3" font-weight="bold" text-anchor="middle" fill="#101030">PC-3</text>
<rect x="481.5" y="38.7" width="26.55" height="4.1" fill="#33a9e0"/>
<text x="494.75" y="42.3" font-size="4.3" font-weight="bold" text-anchor="middle" fill="#101030">PC-3M</text>
<clipPath id="c2430"><rect x="243" y="42.8" width="265" height="267.8"/></clipPath><g clip-path="url(#c2430)">
<rect x="243" y="42.8" width="27.5" height="13.93" fill="#ea2227"/>
<rect x="243" y="55.73" width="27.5" height="6.54" fill="#13321b"/>
<rect x="243" y="61.27" width="27.5" height="10.23" fill="#711014"/>
<rect x="243" y="70.5" width="27.5" height="12.08" fill="#2c0a0a"/>
<rect x="243" y="81.58" width="27.5" height="2.85" fill="#560d0f"/>
<rect x="243" y="83.43" width="27.5" height="4.69" fill="#1a8a40"/>
<rect x="243" y="87.13" width="27.5" height="6.54" fill="#120b0b"/>
<rect x="243" y="92.67" width="27.5" height="6.54" fill="#a8191f"/>
<rect x="243" y="98.21" width="27.5" height="6.54" fill="#711014"/>
<rect x="243" y="103.75" width="27.5" height="2.85" fill="#560d0f"/>
<rect x="243" y="105.59" width="27.5" height="8.39" fill="#1a8a40"/>
<rect x="243" y="112.98" width="27.5" height="4.69" fill="#175a2d"/>
<rect x="243" y="116.68" width="27.5" height="6.54" fill="#120b0b"/>
<rect x="243" y="122.22" width="27.5" height="6.54" fill="#560d0f"/>
<rect x="243" y="127.76" width="27.5" height="6.54" fill="#175a2d"/>
<rect x="243" y="133.3" width="27.5" height="6.54" fill="#13321b"/>
<rect x="243" y="138.84" width="27.5" height="8.39" fill="#120b0b"/>
<rect x="243" y="146.23" width="27.5" height="2.85" fill="#13321b"/>
<rect x="243" y="148.07" width="27.5" height="4.69" fill="#1a8a40"/>
<rect x="243" y="151.77" width="27.5" height="4.69" fill="#13321b"/>
<rect x="243" y="155.46" width="27.5" height="4.69" fill="#2c0a0a"/>
<rect x="243" y="159.15" width="27.5" height="6.54" fill="#175a2d"/>
<rect x="243" y="164.7" width="27.5" height="6.54" fill="#13321b"/>
<rect x="243" y="170.24" width="27.5" height="2.85" fill="#120b0b"/>
<rect x="243" y="172.08" width="27.5" height="4.69" fill="#175a2d"/>
<rect x="243" y="175.78" width="27.5" height="8.39" fill="#1a8a40"/>
<rect x="243" y="183.16" width="27.5" height="6.54" fill="#18ad4a"/>
<rect x="243" y="188.7" width="27.5" height="4.69" fill="#175a2d"/>
<rect x="243" y="192.4" width="27.5" height="6.54" fill="#1a8a40"/>
<rect x="243" y="197.94" width="27.5" height="13.93" fill="#18ad4a"/>
<rect x="243" y="210.87" width="27.5" height="6.54" fill="#55b948"/>
<rect x="243" y="216.41" width="27.5" height="6.54" fill="#13321b"/>
<rect x="243" y="221.95" width="27.5" height="4.69" fill="#55b948"/>
<rect x="243" y="225.64" width="27.5" height="15.78" fill="#18ad4a"/>
<rect x="243" y="240.42" width="27.5" height="4.69" fill="#175a2d"/>
<rect x="243" y="244.11" width="27.5" height="2.85" fill="#55b948"/>
<rect x="243" y="245.96" width="27.5" height="15.78" fill="#18ad4a"/>
<rect x="243" y="260.73" width="27.5" height="6.54" fill="#55b948"/>
<rect x="243" y="266.27" width="27.5" height="10.23" fill="#18ad4a"/>
<rect x="243" y="275.51" width="27.5" height="4.69" fill="#13321b"/>
<rect x="243" y="279.2" width="27.5" height="10.23" fill="#1a8a40"/>
<rect x="243" y="288.44" width="27.5" height="23.16" fill="#18ad4a"/>
<rect x="269.5" y="42.8" width="27.5" height="8.39" fill="#13321b"/>
<rect x="269.5" y="50.19" width="27.5" height="4.69" fill="#1a8a40"/>
<rect x="269.5" y="53.88" width="27.5" height="2.85" fill="#175a2d"/>
<rect x="269.5" y="55.73" width="27.5" height="2.85" fill="#560d0f"/>
<rect x="269.5" y="57.58" width="27.5" height="4.69" fill="#ea2227"/>
<rect x="269.5" y="61.27" width="27.5" height="6.54" fill="#711014"/>
<rect x="269.5" y="66.81" width="27.5" height="10.23" fill="#ea2227"/>
<rect x="269.5" y="76.04" width="27.5" height="4.69" fill="#13321b"/>
<rect x="269.5" y="79.74" width="27.5" height="4.69" fill="#560d0f"/>
<rect x="269.5" y="83.43" width="27.5" height="6.54" fill="#120b0b"/>
<rect x="269.5" y="88.97" width="27.5" height="13.93" fill="#711014"/>
<rect x="269.5" y="101.9" width="27.5" height="2.85" fill="#120b0b"/>
<rect x="269.5" y="103.75" width="27.5" height="10.23" fill="#a8191f"/>
<rect x="269.5" y="112.98" width="27.5" height="12.08" fill="#c41e25"/>
<rect x="269.5" y="124.06" width="27.5" height="13.93" fill="#711014"/>
<rect x="269.5" y="136.99" width="27.5" height="15.78" fill="#2c0a0a"/>
<rect x="269.5" y="151.77" width="27.5" height="6.54" fill="#13321b"/>
<rect x="269.5" y="157.31" width="27.5" height="4.69" fill="#560d0f"/>
<rect x="269.5" y="161" width="27.5" height="6.54" fill="#2c0a0a"/>
<rect x="269.5" y="166.54" width="27.5" height="4.69" fill="#120b0b"/>
<rect x="269.5" y="170.24" width="27.5" height="6.54" fill="#175a2d"/>
<rect x="269.5" y="175.78" width="27.5" height="4.69" fill="#1a8a40"/>
<rect x="269.5" y="179.47" width="27.5" height="8.39" fill="#175a2d"/>
<rect x="269.5" y="186.86" width="27.5" height="12.08" fill="#1a8a40"/>
<rect x="269.5" y="197.94" width="27.5" height="12.08" fill="#18ad4a"/>
<rect x="269.5" y="209.02" width="27.5" height="8.39" fill="#55b948"/>
<rect x="269.5" y="216.41" width="27.5" height="6.54" fill="#175a2d"/>
<rect x="269.5" y="221.95" width="27.5" height="23.16" fill="#55b948"/>
<rect x="269.5" y="244.11" width="27.5" height="23.16" fill="#18ad4a"/>
<rect x="269.5" y="266.27" width="27.5" height="10.23" fill="#55b948"/>
<rect x="269.5" y="275.51" width="27.5" height="4.69" fill="#13321b"/>
<rect x="269.5" y="279.2" width="27.5" height="12.08" fill="#1a8a40"/>
<rect x="269.5" y="290.28" width="27.5" height="10.23" fill="#18ad4a"/>
<rect x="269.5" y="299.52" width="27.5" height="12.08" fill="#55b948"/>
<rect x="296" y="42.8" width="27.5" height="6.54" fill="#13321b"/>
<rect x="296" y="48.34" width="27.5" height="2.85" fill="#2c0a0a"/>
<rect x="296" y="50.19" width="27.5" height="4.69" fill="#711014"/>
<rect x="296" y="53.88" width="27.5" height="6.54" fill="#2c0a0a"/>
<rect x="296" y="59.42" width="27.5" height="2.85" fill="#13321b"/>
<rect x="296" y="61.27" width="27.5" height="4.69" fill="#18ad4a"/>
<rect x="296" y="64.96" width="27.5" height="2.85" fill="#13321b"/>
<rect x="296" y="66.81" width="27.5" height="6.54" fill="#560d0f"/>
<rect x="296" y="72.35" width="27.5" height="2.85" fill="#120b0b"/>
<rect x="296" y="74.2" width="27.5" height="19.47" fill="#ea2227"/>
<rect x="296" y="92.67" width="27.5" height="4.69" fill="#711014"/>
<rect x="296" y="96.36" width="27.5" height="8.39" fill="#2c0a0a"/>
<rect x="296" y="103.75" width="27.5" height="10.23" fill="#120b0b"/>
<rect x="296" y="112.98" width="27.5" height="8.39" fill="#560d0f"/>
<rect x="296" y="120.37" width="27.5" height="4.69" fill="#2c0a0a"/>
<rect x="296" y="124.06" width="27.5" height="6.54" fill="#711014"/>
<rect x="296" y="129.6" width="27.5" height="6.54" fill="#a8191f"/>
<rect x="296" y="135.14" width="27.5" height="10.23" fill="#c41e25"/>
<rect x="296" y="144.38" width="27.5" height="2.85" fill="#120b0b"/>
<rect x="296" y="146.23" width="27.5" height="4.69" fill="#560d0f"/>
<rect x="296" y="149.92" width="27.5" height="4.69" fill="#2c0a0a"/>
<rect x="296" y="153.61" width="27.5" height="4.69" fill="#560d0f"/>
<rect x="296" y="157.31" width="27.5" height="17.62" fill="#a8191f"/>
<rect x="296" y="173.93" width="27.5" height="4.69" fill="#175a2d"/>
<rect x="296" y="177.62" width="27.5" height="10.23" fill="#1a8a40"/>
<rect x="296" y="186.86" width="27.5" height="4.69" fill="#175a2d"/>
<rect x="296" y="190.55" width="27.5" height="6.54" fill="#1a8a40"/>
<rect x="296" y="196.09" width="27.5" height="15.78" fill="#18ad4a"/>
<rect x="296" y="210.87" width="27.5" height="6.54" fill="#55b948"/>
<rect x="296" y="216.41" width="27.5" height="6.54" fill="#13321b"/>
<rect x="296" y="221.95" width="27.5" height="8.39" fill="#55b948"/>
<rect x="296" y="229.34" width="27.5" height="12.08" fill="#18ad4a"/>
<rect x="296" y="240.42" width="27.5" height="4.69" fill="#1a8a40"/>
<rect x="296" y="244.11" width="27.5" height="23.16" fill="#18ad4a"/>
<rect x="296" y="266.27" width="27.5" height="10.23" fill="#55b948"/>
<rect x="296" y="275.51" width="27.5" height="4.69" fill="#13321b"/>
<rect x="296" y="279.2" width="27.5" height="10.23" fill="#1a8a40"/>
<rect x="296" y="288.44" width="27.5" height="15.78" fill="#18ad4a"/>
<rect x="296" y="303.21" width="27.5" height="8.39" fill="#55b948"/>
<rect x="322.5" y="42.8" width="27.5" height="4.69" fill="#13321b"/>
<rect x="322.5" y="46.49" width="27.5" height="2.85" fill="#175a2d"/>
<rect x="322.5" y="48.34" width="27.5" height="6.54" fill="#18ad4a"/>
<rect x="322.5" y="53.88" width="27.5" height="2.85" fill="#175a2d"/>
<rect x="322.5" y="55.73" width="27.5" height="6.54" fill="#13321b"/>
<rect x="322.5" y="61.27" width="27.5" height="6.54" fill="#711014"/>
<rect x="322.5" y="66.81" width="27.5" height="4.69" fill="#1a8a40"/>
<rect x="322.5" y="70.5" width="27.5" height="8.39" fill="#120b0b"/>
<rect x="322.5" y="77.89" width="27.5" height="6.54" fill="#2c0a0a"/>
<rect x="322.5" y="83.43" width="27.5" height="2.85" fill="#13321b"/>
<rect x="322.5" y="85.28" width="27.5" height="4.69" fill="#2c0a0a"/>
<rect x="322.5" y="88.97" width="27.5" height="4.69" fill="#18ad4a"/>
<rect x="322.5" y="92.67" width="27.5" height="2.85" fill="#120b0b"/>
<rect x="322.5" y="94.51" width="27.5" height="10.23" fill="#a8191f"/>
<rect x="322.5" y="103.75" width="27.5" height="2.85" fill="#2c0a0a"/>
<rect x="322.5" y="105.59" width="27.5" height="8.39" fill="#c41e25"/>
<rect x="322.5" y="112.98" width="27.5" height="10.23" fill="#a8191f"/>
<rect x="322.5" y="122.22" width="27.5" height="6.54" fill="#711014"/>
<rect x="322.5" y="127.76" width="27.5" height="6.54" fill="#560d0f"/>
<rect x="322.5" y="133.3" width="27.5" height="6.54" fill="#2c0a0a"/>
<rect x="322.5" y="138.84" width="27.5" height="8.39" fill="#560d0f"/>
<rect x="322.5" y="146.23" width="27.5" height="12.08" fill="#ea2227"/>
<rect x="322.5" y="157.31" width="27.5" height="17.62" fill="#a8191f"/>
<rect x="322.5" y="173.93" width="27.5" height="4.69" fill="#175a2d"/>
<rect x="322.5" y="177.62" width="27.5" height="10.23" fill="#1a8a40"/>
<rect x="322.5" y="186.86" width="27.5" height="4.69" fill="#18ad4a"/>
<rect x="322.5" y="190.55" width="27.5" height="8.39" fill="#1a8a40"/>
<rect x="322.5" y="197.94" width="27.5" height="13.93" fill="#18ad4a"/>
<rect x="322.5" y="210.87" width="27.5" height="12.08" fill="#175a2d"/>
<rect x="322.5" y="221.95" width="27.5" height="4.69" fill="#18ad4a"/>
<rect x="322.5" y="225.64" width="27.5" height="15.78" fill="#55b948"/>
<rect x="322.5" y="240.42" width="27.5" height="4.69" fill="#18ad4a"/>
<rect x="322.5" y="244.11" width="27.5" height="4.69" fill="#120b0b"/>
<rect x="322.5" y="247.81" width="27.5" height="8.39" fill="#18ad4a"/>
<rect x="322.5" y="255.19" width="27.5" height="6.54" fill="#1a8a40"/>
<rect x="322.5" y="260.73" width="27.5" height="15.78" fill="#55b948"/>
<rect x="322.5" y="275.51" width="27.5" height="4.69" fill="#13321b"/>
<rect x="322.5" y="279.2" width="27.5" height="12.08" fill="#1a8a40"/>
<rect x="322.5" y="290.28" width="27.5" height="6.54" fill="#120b0b"/>
<rect x="322.5" y="295.82" width="27.5" height="8.39" fill="#18ad4a"/>
<rect x="322.5" y="303.21" width="27.5" height="8.39" fill="#55b948"/>
<rect x="349" y="42.8" width="27.5" height="2.85" fill="#175a2d"/>
<rect x="349" y="44.65" width="27.5" height="8.39" fill="#1a8a40"/>
<rect x="349" y="52.03" width="27.5" height="2.85" fill="#120b0b"/>
<rect x="349" y="53.88" width="27.5" height="2.85" fill="#18ad4a"/>
<rect x="349" y="55.73" width="27.5" height="4.69" fill="#a8191f"/>
<rect x="349" y="59.42" width="27.5" height="8.39" fill="#2c0a0a"/>
<rect x="349" y="66.81" width="27.5" height="8.39" fill="#1a8a40"/>
<rect x="349" y="74.2" width="27.5" height="4.69" fill="#175a2d"/>
<rect x="349" y="77.89" width="27.5" height="6.54" fill="#1a8a40"/>
<rect x="349" y="83.43" width="27.5" height="2.85" fill="#13321b"/>
<rect x="349" y="85.28" width="27.5" height="6.54" fill="#1a8a40"/>
<rect x="349" y="90.82" width="27.5" height="4.69" fill="#175a2d"/>
<rect x="349" y="94.51" width="27.5" height="8.39" fill="#18ad4a"/>
<rect x="349" y="101.9" width="27.5" height="12.08" fill="#1a8a40"/>
<rect x="349" y="112.98" width="27.5" height="2.85" fill="#18ad4a"/>
<rect x="349" y="114.83" width="27.5" height="6.54" fill="#1a8a40"/>
<rect x="349" y="120.37" width="27.5" height="6.54" fill="#13321b"/>
<rect x="349" y="125.91" width="27.5" height="4.69" fill="#18ad4a"/>
<rect x="349" y="129.6" width="27.5" height="17.62" fill="#1a8a40"/>
<rect x="349" y="146.23" width="27.5" height="2.85" fill="#175a2d"/>
<rect x="349" y="148.07" width="27.5" height="4.69" fill="#13321b"/>
<rect x="349" y="151.77" width="27.5" height="19.47" fill="#1a8a40"/>
<rect x="349" y="170.24" width="27.5" height="6.54" fill="#175a2d"/>
<rect x="349" y="175.78" width="27.5" height="4.69" fill="#120b0b"/>
<rect x="349" y="179.47" width="27.5" height="4.69" fill="#13321b"/>
<rect x="349" y="183.16" width="27.5" height="6.54" fill="#120b0b"/>
<rect x="349" y="188.7" width="27.5" height="4.69" fill="#175a2d"/>
<rect x="349" y="192.4" width="27.5" height="8.39" fill="#2c0a0a"/>
<rect x="349" y="199.79" width="27.5" height="4.69" fill="#13321b"/>
<rect x="349" y="203.48" width="27.5" height="4.69" fill="#711014"/>
<rect x="349" y="207.17" width="27.5" height="2.85" fill="#13321b"/>
<rect x="349" y="209.02" width="27.5" height="2.85" fill="#a8191f"/>
<rect x="349" y="210.87" width="27.5" height="8.39" fill="#711014"/>
<rect x="349" y="218.26" width="27.5" height="4.69" fill="#175a2d"/>
<rect x="349" y="221.95" width="27.5" height="2.85" fill="#2c0a0a"/>
<rect x="349" y="223.8" width="27.5" height="6.54" fill="#711014"/>
<rect x="349" y="229.34" width="27.5" height="2.85" fill="#560d0f"/>
<rect x="349" y="231.18" width="27.5" height="8.39" fill="#a8191f"/>
<rect x="349" y="238.57" width="27.5" height="6.54" fill="#2c0a0a"/>
<rect x="349" y="244.11" width="27.5" height="8.39" fill="#560d0f"/>
<rect x="349" y="251.5" width="27.5" height="4.69" fill="#120b0b"/>
<rect x="349" y="255.19" width="27.5" height="12.08" fill="#a8191f"/>
<rect x="349" y="266.27" width="27.5" height="4.69" fill="#120b0b"/>
<rect x="349" y="269.97" width="27.5" height="4.69" fill="#2c0a0a"/>
<rect x="349" y="273.66" width="27.5" height="8.39" fill="#175a2d"/>
<rect x="349" y="281.05" width="27.5" height="8.39" fill="#a8191f"/>
<rect x="349" y="288.44" width="27.5" height="4.69" fill="#560d0f"/>
<rect x="349" y="292.13" width="27.5" height="4.69" fill="#a8191f"/>
<rect x="349" y="295.82" width="27.5" height="6.54" fill="#13321b"/>
<rect x="349" y="301.37" width="27.5" height="6.54" fill="#120b0b"/>
<rect x="349" y="306.91" width="27.5" height="4.69" fill="#2c0a0a"/>
<rect x="375.5" y="42.8" width="27.5" height="2.85" fill="#560d0f"/>
<rect x="375.5" y="44.65" width="27.5" height="4.69" fill="#13321b"/>
<rect x="375.5" y="48.34" width="27.5" height="4.69" fill="#120b0b"/>
<rect x="375.5" y="52.03" width="27.5" height="4.69" fill="#2c0a0a"/>
<rect x="375.5" y="55.73" width="27.5" height="2.85" fill="#175a2d"/>
<rect x="375.5" y="57.58" width="27.5" height="10.23" fill="#2c0a0a"/>
<rect x="375.5" y="66.81" width="27.5" height="8.39" fill="#1a8a40"/>
<rect x="375.5" y="74.2" width="27.5" height="4.69" fill="#13321b"/>
<rect x="375.5" y="77.89" width="27.5" height="6.54" fill="#1a8a40"/>
<rect x="375.5" y="83.43" width="27.5" height="2.85" fill="#120b0b"/>
<rect x="375.5" y="85.28" width="27.5" height="12.08" fill="#1a8a40"/>
<rect x="375.5" y="96.36" width="27.5" height="6.54" fill="#18ad4a"/>
<rect x="375.5" y="101.9" width="27.5" height="6.54" fill="#175a2d"/>
<rect x="375.5" y="107.44" width="27.5" height="10.23" fill="#1a8a40"/>
<rect x="375.5" y="116.68" width="27.5" height="4.69" fill="#175a2d"/>
<rect x="375.5" y="120.37" width="27.5" height="6.54" fill="#1a8a40"/>
<rect x="375.5" y="125.91" width="27.5" height="4.69" fill="#13321b"/>
<rect x="375.5" y="129.6" width="27.5" height="19.47" fill="#1a8a40"/>
<rect x="375.5" y="148.07" width="27.5" height="4.69" fill="#175a2d"/>
<rect x="375.5" y="151.77" width="27.5" height="6.54" fill="#13321b"/>
<rect x="375.5" y="157.31" width="27.5" height="4.69" fill="#1a8a40"/>
<rect x="375.5" y="161" width="27.5" height="2.85" fill="#175a2d"/>
<rect x="375.5" y="162.85" width="27.5" height="4.69" fill="#120b0b"/>
<rect x="375.5" y="166.54" width="27.5" height="6.54" fill="#1a8a40"/>
<rect x="375.5" y="172.08" width="27.5" height="6.54" fill="#13321b"/>
<rect x="375.5" y="177.62" width="27.5" height="2.85" fill="#2c0a0a"/>
<rect x="375.5" y="179.47" width="27.5" height="8.39" fill="#120b0b"/>
<rect x="375.5" y="186.86" width="27.5" height="4.69" fill="#13321b"/>
<rect x="375.5" y="190.55" width="27.5" height="6.54" fill="#175a2d"/>
<rect x="375.5" y="196.09" width="27.5" height="4.69" fill="#120b0b"/>
<rect x="375.5" y="199.79" width="27.5" height="8.39" fill="#2c0a0a"/>
<rect x="375.5" y="207.17" width="27.5" height="8.39" fill="#711014"/>
<rect x="375.5" y="214.56" width="27.5" height="4.69" fill="#560d0f"/>
<rect x="375.5" y="218.26" width="27.5" height="4.69" fill="#175a2d"/>
<rect x="375.5" y="221.95" width="27.5" height="6.54" fill="#2c0a0a"/>
<rect x="375.5" y="227.49" width="27.5" height="6.54" fill="#13321b"/>
<rect x="375.5" y="233.03" width="27.5" height="8.39" fill="#560d0f"/>
<rect x="375.5" y="240.42" width="27.5" height="4.69" fill="#175a2d"/>
<rect x="375.5" y="244.11" width="27.5" height="6.54" fill="#2c0a0a"/>
<rect x="375.5" y="249.65" width="27.5" height="6.54" fill="#13321b"/>
<rect x="375.5" y="255.19" width="27.5" height="4.69" fill="#2c0a0a"/>
<rect x="375.5" y="258.89" width="27.5" height="2.85" fill="#560d0f"/>
<rect x="375.5" y="260.73" width="27.5" height="4.69" fill="#18ad4a"/>
<rect x="375.5" y="264.43" width="27.5" height="10.23" fill="#13321b"/>
<rect x="375.5" y="273.66" width="27.5" height="2.85" fill="#175a2d"/>
<rect x="375.5" y="275.51" width="27.5" height="6.54" fill="#1a8a40"/>
<rect x="375.5" y="281.05" width="27.5" height="4.69" fill="#a8191f"/>
<rect x="375.5" y="284.74" width="27.5" height="10.23" fill="#ea2227"/>
<rect x="375.5" y="293.98" width="27.5" height="17.62" fill="#a8191f"/>
<rect x="402" y="42.8" width="27.5" height="6.54" fill="#175a2d"/>
<rect x="402" y="48.34" width="27.5" height="6.54" fill="#13321b"/>
<rect x="402" y="53.88" width="27.5" height="8.39" fill="#120b0b"/>
<rect x="402" y="61.27" width="27.5" height="4.69" fill="#175a2d"/>
<rect x="402" y="64.96" width="27.5" height="2.85" fill="#120b0b"/>
<rect x="402" y="66.81" width="27.5" height="8.39" fill="#1a8a40"/>
<rect x="402" y="74.2" width="27.5" height="4.69" fill="#120b0b"/>
<rect x="402" y="77.89" width="27.5" height="6.54" fill="#1a8a40"/>
<rect x="402" y="83.43" width="27.5" height="6.54" fill="#13321b"/>
<rect x="402" y="88.97" width="27.5" height="8.39" fill="#1a8a40"/>
<rect x="402" y="96.36" width="27.5" height="2.85" fill="#13321b"/>
<rect x="402" y="98.21" width="27.5" height="4.69" fill="#1a8a40"/>
<rect x="402" y="101.9" width="27.5" height="2.85" fill="#18ad4a"/>
<rect x="402" y="103.75" width="27.5" height="4.69" fill="#2c0a0a"/>
<rect x="402" y="107.44" width="27.5" height="4.69" fill="#175a2d"/>
<rect x="402" y="111.14" width="27.5" height="10.23" fill="#1a8a40"/>
<rect x="402" y="120.37" width="27.5" height="8.39" fill="#18ad4a"/>
<rect x="402" y="127.76" width="27.5" height="17.62" fill="#1a8a40"/>
<rect x="402" y="144.38" width="27.5" height="12.08" fill="#175a2d"/>
<rect x="402" y="155.46" width="27.5" height="4.69" fill="#120b0b"/>
<rect x="402" y="159.15" width="27.5" height="6.54" fill="#1a8a40"/>
<rect x="402" y="164.7" width="27.5" height="2.85" fill="#175a2d"/>
<rect x="402" y="166.54" width="27.5" height="8.39" fill="#1a8a40"/>
<rect x="402" y="173.93" width="27.5" height="6.54" fill="#ea2227"/>
<rect x="402" y="179.47" width="27.5" height="12.08" fill="#13321b"/>
<rect x="402" y="190.55" width="27.5" height="6.54" fill="#175a2d"/>
<rect x="402" y="196.09" width="27.5" height="4.69" fill="#711014"/>
<rect x="402" y="199.79" width="27.5" height="8.39" fill="#2c0a0a"/>
<rect x="402" y="207.17" width="27.5" height="2.85" fill="#a8191f"/>
<rect x="402" y="209.02" width="27.5" height="6.54" fill="#2c0a0a"/>
<rect x="402" y="214.56" width="27.5" height="4.69" fill="#13321b"/>
<rect x="402" y="218.26" width="27.5" height="4.69" fill="#175a2d"/>
<rect x="402" y="221.95" width="27.5" height="6.54" fill="#711014"/>
<rect x="402" y="227.49" width="27.5" height="6.54" fill="#2c0a0a"/>
<rect x="402" y="233.03" width="27.5" height="4.69" fill="#a8191f"/>
<rect x="402" y="236.72" width="27.5" height="2.85" fill="#560d0f"/>
<rect x="402" y="238.57" width="27.5" height="4.69" fill="#13321b"/>
<rect x="402" y="242.26" width="27.5" height="2.85" fill="#560d0f"/>
<rect x="402" y="244.11" width="27.5" height="2.85" fill="#120b0b"/>
<rect x="402" y="245.96" width="27.5" height="4.69" fill="#18ad4a"/>
<rect x="402" y="249.65" width="27.5" height="6.54" fill="#2c0a0a"/>
<rect x="402" y="255.19" width="27.5" height="12.08" fill="#13321b"/>
<rect x="402" y="266.27" width="27.5" height="4.69" fill="#2c0a0a"/>
<rect x="402" y="269.97" width="27.5" height="6.54" fill="#13321b"/>
<rect x="402" y="275.51" width="27.5" height="6.54" fill="#1a8a40"/>
<rect x="402" y="281.05" width="27.5" height="4.69" fill="#175a2d"/>
<rect x="402" y="284.74" width="27.5" height="4.69" fill="#a8191f"/>
<rect x="402" y="288.44" width="27.5" height="4.69" fill="#2c0a0a"/>
<rect x="402" y="292.13" width="27.5" height="4.69" fill="#560d0f"/>
<rect x="402" y="295.82" width="27.5" height="4.69" fill="#175a2d"/>
<rect x="402" y="299.52" width="27.5" height="4.69" fill="#2c0a0a"/>
<rect x="402" y="303.21" width="27.5" height="4.69" fill="#560d0f"/>
<rect x="402" y="306.91" width="27.5" height="4.69" fill="#2c0a0a"/>
<rect x="428.5" y="42.8" width="27.5" height="2.85" fill="#13321b"/>
<rect x="428.5" y="44.65" width="27.5" height="8.39" fill="#175a2d"/>
<rect x="428.5" y="52.03" width="27.5" height="4.69" fill="#18ad4a"/>
<rect x="428.5" y="55.73" width="27.5" height="2.85" fill="#1a8a40"/>
<rect x="428.5" y="57.58" width="27.5" height="10.23" fill="#3fb54a"/>
<rect x="428.5" y="66.81" width="27.5" height="2.85" fill="#120b0b"/>
<rect x="428.5" y="68.66" width="27.5" height="13.93" fill="#1a8a40"/>
<rect x="428.5" y="81.58" width="27.5" height="8.39" fill="#13321b"/>
<rect x="428.5" y="88.97" width="27.5" height="2.85" fill="#120b0b"/>
<rect x="428.5" y="90.82" width="27.5" height="4.69" fill="#1a8a40"/>
<rect x="428.5" y="94.51" width="27.5" height="4.69" fill="#18ad4a"/>
<rect x="428.5" y="98.21" width="27.5" height="6.54" fill="#1a8a40"/>
<rect x="428.5" y="103.75" width="27.5" height="4.69" fill="#18ad4a"/>
<rect x="428.5" y="107.44" width="27.5" height="6.54" fill="#175a2d"/>
<rect x="428.5" y="112.98" width="27.5" height="36.09" fill="#1a8a40"/>
<rect x="428.5" y="148.07" width="27.5" height="8.39" fill="#175a2d"/>
<rect x="428.5" y="155.46" width="27.5" height="8.39" fill="#1a8a40"/>
<rect x="428.5" y="162.85" width="27.5" height="4.69" fill="#18ad4a"/>
<rect x="428.5" y="166.54" width="27.5" height="8.39" fill="#1a8a40"/>
<rect x="428.5" y="173.93" width="27.5" height="4.69" fill="#175a2d"/>
<rect x="428.5" y="177.62" width="27.5" height="2.85" fill="#1a8a40"/>
<rect x="428.5" y="179.47" width="27.5" height="4.69" fill="#175a2d"/>
<rect x="428.5" y="183.16" width="27.5" height="4.69" fill="#2c0a0a"/>
<rect x="428.5" y="186.86" width="27.5" height="12.08" fill="#13321b"/>
<rect x="428.5" y="197.94" width="27.5" height="8.39" fill="#120b0b"/>
<rect x="428.5" y="205.33" width="27.5" height="2.85" fill="#13321b"/>
<rect x="428.5" y="207.17" width="27.5" height="2.85" fill="#18ad4a"/>
<rect x="428.5" y="209.02" width="27.5" height="4.69" fill="#120b0b"/>
<rect x="428.5" y="212.71" width="27.5" height="6.54" fill="#175a2d"/>
<rect x="428.5" y="218.26" width="27.5" height="4.69" fill="#13321b"/>
<rect x="428.5" y="221.95" width="27.5" height="4.69" fill="#120b0b"/>
<rect x="428.5" y="225.64" width="27.5" height="6.54" fill="#2c0a0a"/>
<rect x="428.5" y="231.18" width="27.5" height="4.69" fill="#560d0f"/>
<rect x="428.5" y="234.88" width="27.5" height="6.54" fill="#2c0a0a"/>
<rect x="428.5" y="240.42" width="27.5" height="19.47" fill="#ea2227"/>
<rect x="428.5" y="258.89" width="27.5" height="4.69" fill="#a8191f"/>
<rect x="428.5" y="262.58" width="27.5" height="4.69" fill="#711014"/>
<rect x="428.5" y="266.27" width="27.5" height="8.39" fill="#a8191f"/>
<rect x="428.5" y="273.66" width="27.5" height="8.39" fill="#711014"/>
<rect x="428.5" y="281.05" width="27.5" height="8.39" fill="#13321b"/>
<rect x="428.5" y="288.44" width="27.5" height="2.85" fill="#120b0b"/>
<rect x="428.5" y="290.28" width="27.5" height="6.54" fill="#2c0a0a"/>
<rect x="428.5" y="295.82" width="27.5" height="2.85" fill="#18ad4a"/>
<rect x="428.5" y="297.67" width="27.5" height="6.54" fill="#2c0a0a"/>
<rect x="428.5" y="303.21" width="27.5" height="8.39" fill="#560d0f"/>
<rect x="455" y="42.8" width="27.5" height="2.85" fill="#175a2d"/>
<rect x="455" y="44.65" width="27.5" height="10.23" fill="#1a8a40"/>
<rect x="455" y="53.88" width="27.5" height="13.93" fill="#3fb54a"/>
<rect x="455" y="66.81" width="27.5" height="8.39" fill="#1a8a40"/>
<rect x="455" y="74.2" width="27.5" height="4.69" fill="#18ad4a"/>
<rect x="455" y="77.89" width="27.5" height="8.39" fill="#1a8a40"/>
<rect x="455" y="85.28" width="27.5" height="4.69" fill="#175a2d"/>
<rect x="455" y="88.97" width="27.5" height="6.54" fill="#1a8a40"/>
<rect x="455" y="94.51" width="27.5" height="12.08" fill="#18ad4a"/>
<rect x="455" y="105.59" width="27.5" height="8.39" fill="#1a8a40"/>
<rect x="455" y="112.98" width="27.5" height="4.69" fill="#18ad4a"/>
<rect x="455" y="116.68" width="27.5" height="10.23" fill="#3fb54a"/>
<rect x="455" y="125.91" width="27.5" height="8.39" fill="#1a8a40"/>
<rect x="455" y="133.3" width="27.5" height="6.54" fill="#175a2d"/>
<rect x="455" y="138.84" width="27.5" height="8.39" fill="#18ad4a"/>
<rect x="455" y="146.23" width="27.5" height="10.23" fill="#1a8a40"/>
<rect x="455" y="155.46" width="27.5" height="8.39" fill="#18ad4a"/>
<rect x="455" y="162.85" width="27.5" height="4.69" fill="#3fb54a"/>
<rect x="455" y="166.54" width="27.5" height="10.23" fill="#1a8a40"/>
<rect x="455" y="175.78" width="27.5" height="4.69" fill="#13321b"/>
<rect x="455" y="179.47" width="27.5" height="10.23" fill="#a8191f"/>
<rect x="455" y="188.7" width="27.5" height="8.39" fill="#2c0a0a"/>
<rect x="455" y="196.09" width="27.5" height="12.08" fill="#c41e25"/>
<rect x="455" y="207.17" width="27.5" height="10.23" fill="#711014"/>
<rect x="455" y="216.41" width="27.5" height="6.54" fill="#ea2227"/>
<rect x="455" y="221.95" width="27.5" height="8.39" fill="#120b0b"/>
<rect x="455" y="229.34" width="27.5" height="8.39" fill="#560d0f"/>
<rect x="455" y="236.72" width="27.5" height="2.85" fill="#2c0a0a"/>
<rect x="455" y="238.57" width="27.5" height="2.85" fill="#18ad4a"/>
<rect x="455" y="240.42" width="27.5" height="21.32" fill="#2c0a0a"/>
<rect x="455" y="260.73" width="27.5" height="6.54" fill="#560d0f"/>
<rect x="455" y="266.27" width="27.5" height="10.23" fill="#a8191f"/>
<rect x="455" y="275.51" width="27.5" height="6.54" fill="#ea2227"/>
<rect x="455" y="281.05" width="27.5" height="6.54" fill="#1a8a40"/>
<rect x="455" y="286.59" width="27.5" height="6.54" fill="#120b0b"/>
<rect x="455" y="292.13" width="27.5" height="4.69" fill="#18ad4a"/>
<rect x="455" y="295.82" width="27.5" height="2.85" fill="#a8191f"/>
<rect x="455" y="297.67" width="27.5" height="6.54" fill="#711014"/>
<rect x="455" y="303.21" width="27.5" height="8.39" fill="#2c0a0a"/>
<rect x="481.5" y="42.8" width="27.5" height="2.85" fill="#175a2d"/>
<rect x="481.5" y="44.65" width="27.5" height="6.54" fill="#13321b"/>
<rect x="481.5" y="50.19" width="27.5" height="4.69" fill="#1a8a40"/>
<rect x="481.5" y="53.88" width="27.5" height="13.93" fill="#3fb54a"/>
<rect x="481.5" y="66.81" width="27.5" height="10.23" fill="#1a8a40"/>
<rect x="481.5" y="76.04" width="27.5" height="8.39" fill="#18ad4a"/>
<rect x="481.5" y="83.43" width="27.5" height="6.54" fill="#175a2d"/>
<rect x="481.5" y="88.97" width="27.5" height="13.93" fill="#1a8a40"/>
<rect x="481.5" y="101.9" width="27.5" height="6.54" fill="#18ad4a"/>
<rect x="481.5" y="107.44" width="27.5" height="13.93" fill="#1a8a40"/>
<rect x="481.5" y="120.37" width="27.5" height="10.23" fill="#18ad4a"/>
<rect x="481.5" y="129.6" width="27.5" height="10.23" fill="#1a8a40"/>
<rect x="481.5" y="138.84" width="27.5" height="8.39" fill="#18ad4a"/>
<rect x="481.5" y="146.23" width="27.5" height="10.23" fill="#1a8a40"/>
<rect x="481.5" y="155.46" width="27.5" height="10.23" fill="#18ad4a"/>
<rect x="481.5" y="164.7" width="27.5" height="12.08" fill="#1a8a40"/>
<rect x="481.5" y="175.78" width="27.5" height="2.85" fill="#13321b"/>
<rect x="481.5" y="177.62" width="27.5" height="12.08" fill="#711014"/>
<rect x="481.5" y="188.7" width="27.5" height="8.39" fill="#ea2227"/>
<rect x="481.5" y="196.09" width="27.5" height="4.69" fill="#13321b"/>
<rect x="481.5" y="199.79" width="27.5" height="4.69" fill="#1a8a40"/>
<rect x="481.5" y="203.48" width="27.5" height="4.69" fill="#120b0b"/>
<rect x="481.5" y="207.17" width="27.5" height="4.69" fill="#1a8a40"/>
<rect x="481.5" y="210.87" width="27.5" height="4.69" fill="#120b0b"/>
<rect x="481.5" y="214.56" width="27.5" height="4.69" fill="#175a2d"/>
<rect x="481.5" y="218.26" width="27.5" height="4.69" fill="#13321b"/>
<rect x="481.5" y="221.95" width="27.5" height="10.23" fill="#2c0a0a"/>
<rect x="481.5" y="231.18" width="27.5" height="4.69" fill="#120b0b"/>
<rect x="481.5" y="234.88" width="27.5" height="4.69" fill="#18ad4a"/>
<rect x="481.5" y="238.57" width="27.5" height="2.85" fill="#a8191f"/>
<rect x="481.5" y="240.42" width="27.5" height="8.39" fill="#1a8a40"/>
<rect x="481.5" y="247.81" width="27.5" height="2.85" fill="#120b0b"/>
<rect x="481.5" y="249.65" width="27.5" height="4.69" fill="#1a8a40"/>
<rect x="481.5" y="253.35" width="27.5" height="8.39" fill="#13321b"/>
<rect x="481.5" y="260.73" width="27.5" height="2.85" fill="#18ad4a"/>
<rect x="481.5" y="262.58" width="27.5" height="6.54" fill="#2c0a0a"/>
<rect x="481.5" y="268.12" width="27.5" height="6.54" fill="#120b0b"/>
<rect x="481.5" y="273.66" width="27.5" height="2.85" fill="#a8191f"/>
<rect x="481.5" y="275.51" width="27.5" height="6.54" fill="#13321b"/>
<rect x="481.5" y="281.05" width="27.5" height="12.08" fill="#1a8a40"/>
<rect x="481.5" y="292.13" width="27.5" height="4.69" fill="#18ad4a"/>
<rect x="481.5" y="295.82" width="27.5" height="8.39" fill="#120b0b"/>
<rect x="481.5" y="303.21" width="27.5" height="8.39" fill="#1a8a40"/>
</g>
<text x="242.6" y="44.6" font-size="2.7" text-anchor="end" fill="#3a3a3a" textLength="13.3" lengthAdjust="spacingAndGlyphs">SLC12A7</text>
<text x="242.6" y="46.9" font-size="2.7" text-anchor="end" fill="#3a3a3a" textLength="11.4" lengthAdjust="spacingAndGlyphs">STEAP1</text>
<text x="242.6" y="49.2" font-size="2.7" text-anchor="end" fill="#3a3a3a" textLength="8" lengthAdjust="spacingAndGlyphs">KLK2</text>
<text x="242.6" y="51.5" font-size="2.7" text-anchor="end" fill="#3a3a3a" textLength="13.3" lengthAdjust="spacingAndGlyphs">TMPRSS2</text>
<text x="242.6" y="53.8" font-size="2.7" text-anchor="end" fill="#3a3a3a" textLength="11.4" lengthAdjust="spacingAndGlyphs">PMEPA1</text>
<text x="242.6" y="56.1" font-size="2.7" text-anchor="end" fill="#3a3a3a" textLength="8" lengthAdjust="spacingAndGlyphs">ACPP</text>
<text x="242.6" y="58.4" font-size="2.7" text-anchor="end" fill="#3a3a3a" textLength="11.4" lengthAdjust="spacingAndGlyphs">ZBTB16</text>
<text x="242.6" y="60.7" font-size="2.7" text-anchor="end" fill="#3a3a3a" textLength="9.5" lengthAdjust="spacingAndGlyphs">PART1</text>
<text x="242.6" y="63" font-size="2.7" text-anchor="end" fill="#3a3a3a" textLength="8" lengthAdjust="spacingAndGlyphs">ERG</text>
<text x="242.6" y="65.3" font-size="2.7" text-anchor="end" fill="#3a3a3a" textLength="9.5" lengthAdjust="spacingAndGlyphs">AMACR</text>
<text x="242.6" y="67.6" font-size="2.7" text-anchor="end" fill="#3a3a3a" textLength="9.5" lengthAdjust="spacingAndGlyphs">GREB1</text>
<text x="242.6" y="69.9" font-size="2.7" text-anchor="end" fill="#3a3a3a" textLength="13.3" lengthAdjust="spacingAndGlyphs">ALDH1A3</text>
<text x="242.6" y="72.2" font-size="2.7" text-anchor="end" fill="#3a3a3a" textLength="8" lengthAdjust="spacingAndGlyphs">MAF</text>
<text x="242.6" y="74.5" font-size="2.7" text-anchor="end" fill="#3a3a3a" textLength="9.5" lengthAdjust="spacingAndGlyphs">CENPN</text>
<text x="242.6" y="76.8" font-size="2.7" text-anchor="end" fill="#3a3a3a" textLength="8" lengthAdjust="spacingAndGlyphs">ODC1</text>
<text x="242.6" y="79.1" font-size="2.7" text-anchor="end" fill="#3a3a3a" textLength="8" lengthAdjust="spacingAndGlyphs">CD44</text>
<text x="242.6" y="81.4" font-size="2.7" text-anchor="end" fill="#3a3a3a" textLength="9.5" lengthAdjust="spacingAndGlyphs">ANXA1</text>
<text x="242.6" y="83.7" font-size="2.7" text-anchor="end" fill="#3a3a3a" textLength="11.4" lengthAdjust="spacingAndGlyphs">LGALS1</text>
<text x="242.6" y="86" font-size="2.7" text-anchor="end" fill="#3a3a3a" textLength="8" lengthAdjust="spacingAndGlyphs">EMP3</text>
<text x="242.6" y="88.3" font-size="2.7" text-anchor="end" fill="#3a3a3a" textLength="8" lengthAdjust="spacingAndGlyphs">HAS3</text>
<text x="242.6" y="90.6" font-size="2.7" text-anchor="end" fill="#3a3a3a" textLength="8" lengthAdjust="spacingAndGlyphs">MYOF</text>
<text x="242.6" y="92.9" font-size="2.7" text-anchor="end" fill="#3a3a3a" textLength="9.5" lengthAdjust="spacingAndGlyphs">LAMB3</text>
<text x="242.6" y="95.2" font-size="2.7" text-anchor="end" fill="#3a3a3a" textLength="8" lengthAdjust="spacingAndGlyphs">TNS4</text>
<text x="242.6" y="97.5" font-size="2.7" text-anchor="end" fill="#3a3a3a" textLength="9.5" lengthAdjust="spacingAndGlyphs">PLAUR</text>
<text x="242.6" y="99.8" font-size="2.7" text-anchor="end" fill="#3a3a3a" textLength="9.5" lengthAdjust="spacingAndGlyphs">CXCL8</text>
<text x="242.6" y="102.1" font-size="2.7" text-anchor="end" fill="#3a3a3a" textLength="9.5" lengthAdjust="spacingAndGlyphs">TIMP1</text>
<text x="242.6" y="104.4" font-size="2.7" text-anchor="end" fill="#3a3a3a" textLength="11.4" lengthAdjust="spacingAndGlyphs">COL4A2</text>
<text x="242.6" y="106.7" font-size="2.7" text-anchor="end" fill="#3a3a3a" textLength="8" lengthAdjust="spacingAndGlyphs">CTGF</text>
<text x="242.6" y="109" font-size="2.7" text-anchor="end" fill="#3a3a3a" textLength="8" lengthAdjust="spacingAndGlyphs">EGFR</text>
<text x="242.6" y="111.3" font-size="2.7" text-anchor="end" fill="#3a3a3a" textLength="8" lengthAdjust="spacingAndGlyphs">TPM1</text>
<text x="242.6" y="113.6" font-size="2.7" text-anchor="end" fill="#3a3a3a" textLength="8" lengthAdjust="spacingAndGlyphs">FLNA</text>
<text x="242.6" y="115.9" font-size="2.7" text-anchor="end" fill="#3a3a3a" textLength="11.4" lengthAdjust="spacingAndGlyphs">PDLIM7</text>
<text x="242.6" y="118.2" font-size="2.7" text-anchor="end" fill="#3a3a3a" textLength="8" lengthAdjust="spacingAndGlyphs">DKK1</text>
<text x="242.6" y="120.5" font-size="2.7" text-anchor="end" fill="#3a3a3a" textLength="8" lengthAdjust="spacingAndGlyphs">GPX8</text>
<text x="242.6" y="122.8" font-size="2.7" text-anchor="end" fill="#3a3a3a" textLength="8" lengthAdjust="spacingAndGlyphs">KYNU</text>
<text x="242.6" y="125.1" font-size="2.7" text-anchor="end" fill="#3a3a3a" textLength="8" lengthAdjust="spacingAndGlyphs">SYP</text>
<text x="242.6" y="127.4" font-size="2.7" text-anchor="end" fill="#3a3a3a" textLength="9.5" lengthAdjust="spacingAndGlyphs">ASCL1</text>
<text x="242.6" y="129.7" font-size="2.7" text-anchor="end" fill="#3a3a3a" textLength="8" lengthAdjust="spacingAndGlyphs">EZH2</text>
<text x="242.6" y="132" font-size="2.7" text-anchor="end" fill="#3a3a3a" textLength="13.3" lengthAdjust="spacingAndGlyphs">ERVK3-1</text>
<text x="242.6" y="134.3" font-size="2.7" text-anchor="end" fill="#3a3a3a" textLength="13.3" lengthAdjust="spacingAndGlyphs">ARHGEF2</text>
<text x="242.6" y="136.6" font-size="2.7" text-anchor="end" fill="#3a3a3a" textLength="14" lengthAdjust="spacingAndGlyphs">SLC25A11</text>
<text x="242.6" y="138.9" font-size="2.7" text-anchor="end" fill="#3a3a3a" textLength="13.3" lengthAdjust="spacingAndGlyphs">PLA2G4F</text>
<text x="242.6" y="141.2" font-size="2.7" text-anchor="end" fill="#3a3a3a" textLength="11.4" lengthAdjust="spacingAndGlyphs">UBE2L3</text>
<text x="242.6" y="143.5" font-size="2.7" text-anchor="end" fill="#3a3a3a" textLength="9.5" lengthAdjust="spacingAndGlyphs">IPO13</text>
<text x="242.6" y="145.8" font-size="2.7" text-anchor="end" fill="#3a3a3a" textLength="8" lengthAdjust="spacingAndGlyphs">GMPR</text>
<text x="242.6" y="148.1" font-size="2.7" text-anchor="end" fill="#3a3a3a" textLength="8" lengthAdjust="spacingAndGlyphs">DDX3</text>
<text x="242.6" y="150.4" font-size="2.7" text-anchor="end" fill="#3a3a3a" textLength="11.4" lengthAdjust="spacingAndGlyphs">STEAP2</text>
<text x="242.6" y="152.7" font-size="2.7" text-anchor="end" fill="#3a3a3a" textLength="11.4" lengthAdjust="spacingAndGlyphs">NKX3-1</text>
<text x="242.6" y="155" font-size="2.7" text-anchor="end" fill="#3a3a3a" textLength="8" lengthAdjust="spacingAndGlyphs">AR</text>
<text x="242.6" y="157.3" font-size="2.7" text-anchor="end" fill="#3a3a3a" textLength="9.5" lengthAdjust="spacingAndGlyphs">SPDEF</text>
<text x="242.6" y="159.6" font-size="2.7" text-anchor="end" fill="#3a3a3a" textLength="9.5" lengthAdjust="spacingAndGlyphs">FKBP5</text>
<text x="242.6" y="161.9" font-size="2.7" text-anchor="end" fill="#3a3a3a" textLength="9.5" lengthAdjust="spacingAndGlyphs">TRPM8</text>
<text x="242.6" y="164.2" font-size="2.7" text-anchor="end" fill="#3a3a3a" textLength="9.5" lengthAdjust="spacingAndGlyphs">GATA2</text>
<text x="242.6" y="166.5" font-size="2.7" text-anchor="end" fill="#3a3a3a" textLength="8" lengthAdjust="spacingAndGlyphs">ETV1</text>
<text x="242.6" y="168.8" font-size="2.7" text-anchor="end" fill="#3a3a3a" textLength="8" lengthAdjust="spacingAndGlyphs">PCA3</text>
<text x="242.6" y="171.1" font-size="2.7" text-anchor="end" fill="#3a3a3a" textLength="11.4" lengthAdjust="spacingAndGlyphs">CAMKK2</text>
<text x="242.6" y="173.4" font-size="2.7" text-anchor="end" fill="#3a3a3a" textLength="14" lengthAdjust="spacingAndGlyphs">C1ORF116</text>
<text x="242.6" y="175.7" font-size="2.7" text-anchor="end" fill="#3a3a3a" textLength="8" lengthAdjust="spacingAndGlyphs">TBX3</text>
<text x="242.6" y="178" font-size="2.7" text-anchor="end" fill="#3a3a3a" textLength="8" lengthAdjust="spacingAndGlyphs">HPGD</text>
<text x="242.6" y="180.3" font-size="2.7" text-anchor="end" fill="#3a3a3a" textLength="13.3" lengthAdjust="spacingAndGlyphs">ADAMTS1</text>
<text x="242.6" y="182.6" font-size="2.7" text-anchor="end" fill="#3a3a3a" textLength="8" lengthAdjust="spacingAndGlyphs">CAV1</text>
<text x="242.6" y="184.9" font-size="2.7" text-anchor="end" fill="#3a3a3a" textLength="9.5" lengthAdjust="spacingAndGlyphs">ANXA2</text>
<text x="242.6" y="187.2" font-size="2.7" text-anchor="end" fill="#3a3a3a" textLength="9.5" lengthAdjust="spacingAndGlyphs">TGFBI</text>
<text x="242.6" y="189.5" font-size="2.7" text-anchor="end" fill="#3a3a3a" textLength="8" lengthAdjust="spacingAndGlyphs">AXL</text>
<text x="242.6" y="191.8" font-size="2.7" text-anchor="end" fill="#3a3a3a" textLength="9.5" lengthAdjust="spacingAndGlyphs">AHNAK</text>
<text x="242.6" y="194.1" font-size="2.7" text-anchor="end" fill="#3a3a3a" textLength="8" lengthAdjust="spacingAndGlyphs">KRT7</text>
<text x="242.6" y="196.4" font-size="2.7" text-anchor="end" fill="#3a3a3a" textLength="9.5" lengthAdjust="spacingAndGlyphs">LAMC2</text>
<text x="242.6" y="198.7" font-size="2.7" text-anchor="end" fill="#3a3a3a" textLength="14" lengthAdjust="spacingAndGlyphs">SERPINE1</text>
<text x="242.6" y="201" font-size="2.7" text-anchor="end" fill="#3a3a3a" textLength="8" lengthAdjust="spacingAndGlyphs">F3</text>
<text x="242.6" y="203.3" font-size="2.7" text-anchor="end" fill="#3a3a3a" textLength="9.5" lengthAdjust="spacingAndGlyphs">CXCL1</text>
<text x="242.6" y="205.6" font-size="2.7" text-anchor="end" fill="#3a3a3a" textLength="9.5" lengthAdjust="spacingAndGlyphs">SPARC</text>
<text x="242.6" y="207.9" font-size="2.7" text-anchor="end" fill="#3a3a3a" textLength="8" lengthAdjust="spacingAndGlyphs">FN1</text>
<text x="242.6" y="210.2" font-size="2.7" text-anchor="end" fill="#3a3a3a" textLength="9.5" lengthAdjust="spacingAndGlyphs">CYR61</text>
<text x="242.6" y="212.5" font-size="2.7" text-anchor="end" fill="#3a3a3a" textLength="8" lengthAdjust="spacingAndGlyphs">MET</text>
<text x="242.6" y="214.8" font-size="2.7" text-anchor="end" fill="#3a3a3a" textLength="8" lengthAdjust="spacingAndGlyphs">TPM2</text>
<text x="242.6" y="217.1" font-size="2.7" text-anchor="end" fill="#3a3a3a" textLength="9.5" lengthAdjust="spacingAndGlyphs">CALD1</text>
<text x="242.6" y="219.4" font-size="2.7" text-anchor="end" fill="#3a3a3a" textLength="8" lengthAdjust="spacingAndGlyphs">LMO7</text>
<text x="242.6" y="221.7" font-size="2.7" text-anchor="end" fill="#3a3a3a" textLength="8" lengthAdjust="spacingAndGlyphs">SLPI</text>
<text x="242.6" y="224" font-size="2.7" text-anchor="end" fill="#3a3a3a" textLength="11.4" lengthAdjust="spacingAndGlyphs">CCDC80</text>
<text x="242.6" y="226.3" font-size="2.7" text-anchor="end" fill="#3a3a3a" textLength="9.5" lengthAdjust="spacingAndGlyphs">RAB31</text>
<text x="242.6" y="228.6" font-size="2.7" text-anchor="end" fill="#3a3a3a" textLength="8" lengthAdjust="spacingAndGlyphs">CHGA</text>
<text x="242.6" y="230.9" font-size="2.7" text-anchor="end" fill="#3a3a3a" textLength="9.5" lengthAdjust="spacingAndGlyphs">INSM1</text>
<text x="242.6" y="233.2" font-size="2.7" text-anchor="end" fill="#3a3a3a" textLength="8" lengthAdjust="spacingAndGlyphs">MYCN</text>
<text x="242.6" y="235.5" font-size="2.7" text-anchor="end" fill="#3a3a3a" textLength="9.5" lengthAdjust="spacingAndGlyphs">TAGLN</text>
<text x="242.6" y="237.8" font-size="2.7" text-anchor="end" fill="#3a3a3a" textLength="11.4" lengthAdjust="spacingAndGlyphs">GTF3C6</text>
<text x="242.6" y="240.1" font-size="2.7" text-anchor="end" fill="#3a3a3a" textLength="8" lengthAdjust="spacingAndGlyphs">EMC1</text>
<text x="242.6" y="242.4" font-size="2.7" text-anchor="end" fill="#3a3a3a" textLength="8" lengthAdjust="spacingAndGlyphs">GAMT</text>
<text x="242.6" y="244.7" font-size="2.7" text-anchor="end" fill="#3a3a3a" textLength="8" lengthAdjust="spacingAndGlyphs">EDN1</text>
<text x="242.6" y="247" font-size="2.7" text-anchor="end" fill="#3a3a3a" textLength="11.4" lengthAdjust="spacingAndGlyphs">BCAP31</text>
<text x="242.6" y="249.3" font-size="2.7" text-anchor="end" fill="#3a3a3a" textLength="11.4" lengthAdjust="spacingAndGlyphs">PLEKH1</text>
<text x="242.6" y="251.6" font-size="2.7" text-anchor="end" fill="#3a3a3a" textLength="11.4" lengthAdjust="spacingAndGlyphs">ZNF589</text>
<text x="242.6" y="253.9" font-size="2.7" text-anchor="end" fill="#3a3a3a" textLength="8" lengthAdjust="spacingAndGlyphs">KLK3</text>
<text x="242.6" y="256.2" font-size="2.7" text-anchor="end" fill="#3a3a3a" textLength="9.5" lengthAdjust="spacingAndGlyphs">FOLH1</text>
<text x="242.6" y="258.5" font-size="2.7" text-anchor="end" fill="#3a3a3a" textLength="11.4" lengthAdjust="spacingAndGlyphs">HOXB13</text>
<text x="242.6" y="260.8" font-size="2.7" text-anchor="end" fill="#3a3a3a" textLength="9.5" lengthAdjust="spacingAndGlyphs">NDRG1</text>
<text x="242.6" y="263.1" font-size="2.7" text-anchor="end" fill="#3a3a3a" textLength="9.5" lengthAdjust="spacingAndGlyphs">ABCC4</text>
<text x="242.6" y="265.4" font-size="2.7" text-anchor="end" fill="#3a3a3a" textLength="13.3" lengthAdjust="spacingAndGlyphs">SLC45A3</text>
<text x="242.6" y="267.7" font-size="2.7" text-anchor="end" fill="#3a3a3a" textLength="9.5" lengthAdjust="spacingAndGlyphs">FOXA1</text>
<text x="242.6" y="270" font-size="2.7" text-anchor="end" fill="#3a3a3a" textLength="9.5" lengthAdjust="spacingAndGlyphs">SPON2</text>
<text x="242.6" y="272.3" font-size="2.7" text-anchor="end" fill="#3a3a3a" textLength="11.4" lengthAdjust="spacingAndGlyphs">TMEFF2</text>
<text x="242.6" y="274.6" font-size="2.7" text-anchor="end" fill="#3a3a3a" textLength="8" lengthAdjust="spacingAndGlyphs">ELL2</text>
<text x="242.6" y="276.9" font-size="2.7" text-anchor="end" fill="#3a3a3a" textLength="8" lengthAdjust="spacingAndGlyphs">KLK4</text>
<text x="242.6" y="279.2" font-size="2.7" text-anchor="end" fill="#3a3a3a" textLength="8" lengthAdjust="spacingAndGlyphs">SGK1</text>
<text x="242.6" y="281.5" font-size="2.7" text-anchor="end" fill="#3a3a3a" textLength="11.4" lengthAdjust="spacingAndGlyphs">STEAP4</text>
<text x="242.6" y="283.8" font-size="2.7" text-anchor="end" fill="#3a3a3a" textLength="8" lengthAdjust="spacingAndGlyphs">VIM</text>
<text x="242.6" y="286.1" font-size="2.7" text-anchor="end" fill="#3a3a3a" textLength="8" lengthAdjust="spacingAndGlyphs">CAV2</text>
<text x="242.6" y="288.4" font-size="2.7" text-anchor="end" fill="#3a3a3a" textLength="11.4" lengthAdjust="spacingAndGlyphs">S100A6</text>
<text x="242.6" y="290.7" font-size="2.7" text-anchor="end" fill="#3a3a3a" textLength="8" lengthAdjust="spacingAndGlyphs">EMP1</text>
<text x="242.6" y="293" font-size="2.7" text-anchor="end" fill="#3a3a3a" textLength="9.5" lengthAdjust="spacingAndGlyphs">CD109</text>
<text x="242.6" y="295.3" font-size="2.7" text-anchor="end" fill="#3a3a3a" textLength="11.4" lengthAdjust="spacingAndGlyphs">AHNAK2</text>
<text x="242.6" y="297.6" font-size="2.7" text-anchor="end" fill="#3a3a3a" textLength="9.5" lengthAdjust="spacingAndGlyphs">KRT18</text>
<text x="242.6" y="299.9" font-size="2.7" text-anchor="end" fill="#3a3a3a" textLength="9.5" lengthAdjust="spacingAndGlyphs">ITGB4</text>
<text x="242.6" y="302.2" font-size="2.7" text-anchor="end" fill="#3a3a3a" textLength="8" lengthAdjust="spacingAndGlyphs">PLAU</text>
<text x="242.6" y="304.5" font-size="2.7" text-anchor="end" fill="#3a3a3a" textLength="8" lengthAdjust="spacingAndGlyphs">IL6</text>
<text x="242.6" y="306.8" font-size="2.7" text-anchor="end" fill="#3a3a3a" textLength="8" lengthAdjust="spacingAndGlyphs">MMP1</text>
<text x="242.6" y="309.1" font-size="2.7" text-anchor="end" fill="#3a3a3a" textLength="11.4" lengthAdjust="spacingAndGlyphs">COL4A1</text>
<text x="242.6" y="311.4" font-size="2.7" text-anchor="end" fill="#3a3a3a" textLength="9.5" lengthAdjust="spacingAndGlyphs">THBS1</text>
<path d="M226.8 43.8H226 M226.8 45.65H226 M226 43.8V45.65 M226.8 49.35H226 M226.8 51.2H226 M226 49.35V51.2 M226.8 47.5H225.2 M226 50.27H225.2 M225.2 47.5V50.27 M226 44.72H224.4 M225.2 48.89H224.4 M224.4 44.72V48.89 M226.8 53.05H226 M226.8 54.9H226 M226 53.05V54.9 M226.8 58.6H226 M226.8 60.45H226 M226 58.6V60.45 M226 59.52H225.2 M226.8 62.3H225.2 M225.2 59.52V62.3 M226.8 56.75H224.4 M225.2 60.91H224.4 M224.4 56.75V60.91 M226 53.97H223.6 M224.4 58.83H223.6 M223.6 53.97V58.83 M224.4 46.81H222.8 M223.6 56.4H222.8 M222.8 46.81V56.4 M226.8 71.55H226 M226.8 73.4H226 M226 71.55V73.4 M226.8 69.7H225.2 M226 72.47H225.2 M225.2 69.7V72.47 M226.8 67.85H224.4 M225.2 71.09H224.4 M224.4 67.85V71.09 M226.8 66H223.6 M224.4 69.47H223.6 M223.6 66V69.47 M226.8 64.15H222.8 M223.6 67.73H222.8 M222.8 64.15V67.73 M222.8 51.6H222 M222.8 65.94H222 M222 51.6V65.94 M226.8 75.25H226 M226.8 77.1H226 M226 75.25V77.1 M226.8 80.8H226 M226.8 82.65H226 M226 80.8V82.65 M226.8 78.95H225.2 M226 81.72H225.2 M225.2 78.95V81.72 M226.8 84.5H226 M226.8 86.35H226 M226 84.5V86.35 M225.2 80.34H224.4 M226 85.42H224.4 M224.4 80.34V85.42 M226 76.17H223.6 M224.4 82.88H223.6 M223.6 76.17V82.88 M226.8 88.2H226 M226.8 90.05H226 M226 88.2V90.05 M226.8 91.9H226 M226.8 93.75H226 M226 91.9V93.75 M226 89.12H225.2 M226 92.83H225.2 M225.2 89.12V92.83 M226.8 97.45H226 M226.8 99.3H226 M226 97.45V99.3 M226.8 95.6H225.2 M226 98.38H225.2 M225.2 95.6V98.38 M226.8 101.15H226 M226.8 103H226 M226 101.15V103 M225.2 96.99H224.4 M226 102.08H224.4 M224.4 96.99V102.08 M225.2 90.97H223.6 M224.4 99.53H223.6 M223.6 90.97V99.53 M223.6 79.53H222.8 M223.6 95.25H222.8 M222.8 79.53V95.25 M222 58.77H221.2 M222.8 87.39H221.2 M221.2 58.77V87.39 M226.8 108.55H226 M226.8 110.4H226 M226 108.55V110.4 M226.8 106.7H225.2 M226 109.47H225.2 M225.2 106.7V109.47 M226.8 104.85H224.4 M225.2 108.09H224.4 M224.4 104.85V108.09 M226.8 114.1H226 M226.8 115.95H226 M226 114.1V115.95 M226.8 117.8H226 M226.8 119.65H226 M226 117.8V119.65 M226 115.03H225.2 M226 118.72H225.2 M225.2 115.03V118.72 M226.8 112.25H224.4 M225.2 116.88H224.4 M224.4 112.25V116.88 M226.8 121.5H226 M226.8 123.35H226 M226 121.5V123.35 M226.8 127.05H226 M226.8 128.9H226 M226 127.05V128.9 M226.8 125.2H225.2 M226 127.97H225.2 M225.2 125.2V127.97 M226 122.42H224.4 M225.2 126.59H224.4 M224.4 122.42V126.59 M224.4 114.56H223.6 M224.4 124.51H223.6 M223.6 114.56V124.51 M224.4 106.47H222.8 M223.6 119.53H222.8 M222.8 106.47V119.53 M226.8 130.75H226 M226.8 132.6H226 M226 130.75V132.6 M226.8 134.45H226 M226.8 136.3H226 M226 134.45V136.3 M226.8 138.15H226 M226.8 140H226 M226 138.15V140 M226 135.38H225.2 M226 139.07H225.2 M225.2 135.38V139.07 M226 131.68H224.4 M225.2 137.22H224.4 M224.4 131.68V137.22 M226.8 141.85H226 M226.8 143.7H226 M226 141.85V143.7 M226.8 145.55H226 M226.8 147.4H226 M226 145.55V147.4 M226 142.78H225.2 M226 146.48H225.2 M225.2 142.78V146.48 M226.8 152.95H226 M226.8 154.8H226 M226 152.95V154.8 M226.8 151.1H225.2 M226 153.88H225.2 M225.2 151.1V153.88 M226.8 149.25H224.4 M225.2 152.49H224.4 M224.4 149.25V152.49 M225.2 144.62H223.6 M224.4 150.87H223.6 M223.6 144.62V150.87 M224.4 134.45H222.8 M223.6 147.75H222.8 M222.8 134.45V147.75 M226.8 158.5H226 M226.8 160.35H226 M226 158.5V160.35 M226.8 156.65H225.2 M226 159.43H225.2 M225.2 156.65V159.43 M226.8 162.2H226 M226.8 164.05H226 M226 162.2V164.05 M226.8 169.6H226 M226.8 171.45H226 M226 169.6V171.45 M226.8 167.75H225.2 M226 170.53H225.2 M225.2 167.75V170.53 M226.8 165.9H224.4 M225.2 169.14H224.4 M224.4 165.9V169.14 M226 163.12H223.6 M224.4 167.52H223.6 M223.6 163.12V167.52 M225.2 158.04H222.8 M223.6 165.32H222.8 M222.8 158.04V165.32 M222.8 141.1H222 M222.8 161.68H222 M222 141.1V161.68 M222.8 113H221.2 M222 151.39H221.2 M221.2 113V151.39 M221.2 73.08H220.4 M221.2 132.2H220.4 M220.4 73.08V132.2" stroke="#f0a090" stroke-width="0.45" fill="none"/>
<path d="M226.8 178.85H226 M226.8 180.7H226 M226 178.85V180.7 M226.8 177H225.2 M226 179.78H225.2 M225.2 177V179.78 M226.8 175.15H224.4 M225.2 178.39H224.4 M224.4 175.15V178.39 M226.8 173.3H223.6 M224.4 176.77H223.6 M223.6 173.3V176.77 M226.8 186.25H226 M226.8 188.1H226 M226 186.25V188.1 M226.8 184.4H225.2 M226 187.18H225.2 M225.2 184.4V187.18 M226.8 182.55H224.4 M225.2 185.79H224.4 M224.4 182.55V185.79 M223.6 175.03H222.8 M224.4 184.17H222.8 M222.8 175.03V184.17 M226.8 191.8H226 M226.8 193.65H226 M226 191.8V193.65 M226.8 189.95H225.2 M226 192.72H225.2 M225.2 189.95V192.72 M226.8 195.5H226 M226.8 197.35H226 M226 195.5V197.35 M225.2 191.34H224.4 M226 196.43H224.4 M224.4 191.34V196.43 M226.8 201.05H226 M226.8 202.9H226 M226 201.05V202.9 M226.8 199.2H225.2 M226 201.97H225.2 M225.2 199.2V201.97 M224.4 193.88H223.6 M225.2 200.59H223.6 M223.6 193.88V200.59 M222.8 179.6H222 M223.6 197.23H222 M222 179.6V197.23 M226.8 206.6H226 M226.8 208.45H226 M226 206.6V208.45 M226.8 210.3H226 M226.8 212.15H226 M226 210.3V212.15 M226 207.53H225.2 M226 211.22H225.2 M225.2 207.53V211.22 M226.8 204.75H224.4 M225.2 209.38H224.4 M224.4 204.75V209.38 M226.8 217.7H226 M226.8 219.55H226 M226 217.7V219.55 M226.8 215.85H225.2 M226 218.62H225.2 M225.2 215.85V218.62 M226.8 214H224.4 M225.2 217.24H224.4 M224.4 214V217.24 M226.8 221.4H226 M226.8 223.25H226 M226 221.4V223.25 M226.8 225.1H226 M226.8 226.95H226 M226 225.1V226.95 M226 222.33H225.2 M226 226.03H225.2 M225.2 222.33V226.03 M224.4 215.62H223.6 M225.2 224.18H223.6 M223.6 215.62V224.18 M224.4 207.06H222.8 M223.6 219.9H222.8 M222.8 207.06V219.9 M222 188.42H221.2 M222.8 213.48H221.2 M221.2 188.42V213.48 M226.8 228.8H226 M226.8 230.65H226 M226 228.8V230.65 M226.8 232.5H226 M226.8 234.35H226 M226 232.5V234.35 M226 229.73H225.2 M226 233.43H225.2 M225.2 229.73V233.43 M226.8 238.05H226 M226.8 239.9H226 M226 238.05V239.9 M226.8 236.2H225.2 M226 238.98H225.2 M225.2 236.2V238.98 M225.2 231.58H224.4 M225.2 237.59H224.4 M224.4 231.58V237.59 M226.8 243.6H226 M226.8 245.45H226 M226 243.6V245.45 M226.8 241.75H225.2 M226 244.53H225.2 M225.2 241.75V244.53 M226.8 247.3H226 M226.8 249.15H226 M226 247.3V249.15 M226.8 251H226 M226.8 252.85H226 M226 251V252.85 M226 248.23H225.2 M226 251.93H225.2 M225.2 248.23V251.93 M226.8 256.55H226 M226.8 258.4H226 M226 256.55V258.4 M226.8 254.7H225.2 M226 257.48H225.2 M225.2 254.7V257.48 M225.2 250.08H224.4 M225.2 256.09H224.4 M224.4 250.08V256.09 M225.2 243.14H223.6 M224.4 253.08H223.6 M223.6 243.14V253.08 M224.4 234.58H222.8 M223.6 248.11H222.8 M222.8 234.58V248.11 M226.8 262.1H226 M226.8 263.95H226 M226 262.1V263.95 M226.8 260.25H225.2 M226 263.02H225.2 M225.2 260.25V263.02 M226.8 271.35H226 M226.8 273.2H226 M226 271.35V273.2 M226.8 269.5H225.2 M226 272.27H225.2 M225.2 269.5V272.27 M226.8 267.65H224.4 M225.2 270.89H224.4 M224.4 267.65V270.89 M226.8 265.8H223.6 M224.4 269.27H223.6 M223.6 265.8V269.27 M225.2 261.64H222.8 M223.6 267.53H222.8 M222.8 261.64V267.53 M222.8 241.35H222 M222.8 264.59H222 M222 241.35V264.59 M226.8 275.05H226 M226.8 276.9H226 M226 275.05V276.9 M226.8 282.45H226 M226.8 284.3H226 M226 282.45V284.3 M226.8 280.6H225.2 M226 283.38H225.2 M225.2 280.6V283.38 M226.8 278.75H224.4 M225.2 281.99H224.4 M224.4 278.75V281.99 M226 275.98H223.6 M224.4 280.37H223.6 M223.6 275.98V280.37 M226.8 288H226 M226.8 289.85H226 M226 288V289.85 M226.8 291.7H226 M226.8 293.55H226 M226 291.7V293.55 M226 288.93H225.2 M226 292.62H225.2 M225.2 288.93V292.62 M226.8 286.15H224.4 M225.2 290.77H224.4 M224.4 286.15V290.77 M226.8 299.1H226 M226.8 300.95H226 M226 299.1V300.95 M226.8 297.25H225.2 M226 300.03H225.2 M225.2 297.25V300.03 M226.8 295.4H224.4 M225.2 298.64H224.4 M224.4 295.4V298.64 M226.8 302.8H226 M226.8 304.65H226 M226 302.8V304.65 M226.8 308.35H226 M226.8 310.2H226 M226 308.35V310.2 M226.8 306.5H225.2 M226 309.28H225.2 M225.2 306.5V309.28 M226 303.73H224.4 M225.2 307.89H224.4 M224.4 303.73V307.89 M224.4 297.02H223.6 M224.4 305.81H223.6 M223.6 297.02V305.81 M224.4 288.46H222.8 M223.6 301.41H222.8 M222.8 288.46V301.41 M223.6 278.17H222 M222.8 294.94H222 M222 278.17V294.94 M222 252.97H221.2 M222 286.55H221.2 M221.2 252.97V286.55 M221.2 200.95H220.4 M221.2 269.76H220.4 M220.4 200.95V269.76" stroke="#9cb4e4" stroke-width="0.45" fill="none"/>
<path d="M220.4 102.64H222.2V235.35H220.4" stroke="#c8b8d0" stroke-width="0.4" fill="none"/>
<rect x="218.3" y="315.4" width="300.2" height="123.4" stroke="#444" stroke-width="1.1" fill="none"/>
<text x="222.55 225.4 228.25 230.6" y="323.2" font-size="7.2" font-weight="bold" fill="#000">III.</text>
<rect x="255.6" y="321.7" width="52.4" height="7.6" fill="url(#cb3)" stroke="#333" stroke-width="0.6"/>
<text x="262.6" y="318.3" font-size="3.2" fill="#666" transform="rotate(90 262.6 317)" text-anchor="middle">2</text>
<text x="273.6" y="318.3" font-size="3.2" fill="#666" transform="rotate(90 273.6 317)" text-anchor="middle">1</text>
<text x="284.8" y="318.3" font-size="3.2" fill="#666" transform="rotate(90 284.8 317)" text-anchor="middle">0</text>
<text x="296.2" y="318.3" font-size="3.2" fill="#666" transform="rotate(90 296.2 317)" text-anchor="middle">-1</text>
<rect x="255.4" y="330.7" width="26.27" height="5.0" fill="#4f7bcc"/>
<text x="268.51" y="335.1" font-size="4.9" font-weight="bold" text-anchor="middle" fill="#14143a">22Rv1</text>
<rect x="281.62" y="330.7" width="26.27" height="5.0" fill="#f2a431"/>
<text x="294.73" y="335.1" font-size="4.9" font-weight="bold" text-anchor="middle" fill="#14143a">LnCAP</text>
<rect x="307.84" y="330.7" width="26.27" height="5.0" fill="#6d4db3"/>
<text x="320.95" y="335.1" font-size="4.9" font-weight="bold" text-anchor="middle" fill="#14143a">VCaP</text>
<rect x="334.06" y="330.7" width="26.27" height="5.0" fill="#8a4ab8"/>
<text x="347.17" y="335.1" font-size="4.9" font-weight="bold" text-anchor="middle" fill="#14143a">MDA-Pca-2b</text>
<rect x="360.28" y="330.7" width="26.27" height="5.0" fill="#6cb946"/>
<text x="373.39" y="335.1" font-size="4.9" font-weight="bold" text-anchor="middle" fill="#14143a">RC77T/E</text>
<rect x="386.5" y="330.7" width="26.27" height="5.0" fill="#a31d24"/>
<text x="399.61" y="335.1" font-size="4.9" font-weight="bold" text-anchor="middle" fill="#14143a">RC165T</text>
<rect x="412.72" y="330.7" width="26.27" height="5.0" fill="#e2528c"/>
<text x="425.83" y="335.1" font-size="4.9" font-weight="bold" text-anchor="middle" fill="#14143a">RC43T</text>
<rect x="438.94" y="330.7" width="26.27" height="5.0" fill="#e9502b"/>
<text x="452.05" y="335.1" font-size="4.9" font-weight="bold" text-anchor="middle" fill="#14143a">DU145</text>
<rect x="465.16" y="330.7" width="26.27" height="5.0" fill="#a33fb2"/>
<text x="478.27" y="335.1" font-size="4.9" font-weight="bold" text-anchor="middle" fill="#14143a">PC-3</text>
<rect x="491.38" y="330.7" width="26.27" height="5.0" fill="#33a9e0"/>
<text x="504.49" y="335.1" font-size="4.9" font-weight="bold" text-anchor="middle" fill="#14143a">PC-3M</text>
<clipPath id="c3"><rect x="255.4" y="335.6" width="262.2" height="100.32"/></clipPath><g clip-path="url(#c3)">
<rect x="255.4" y="335.6" width="27.22" height="10.12" fill="#27ab4b"/>
<rect x="281.62" y="335.6" width="27.22" height="10.12" fill="#38b24a"/>
<rect x="307.84" y="335.6" width="27.22" height="10.12" fill="#2fae4a"/>
<rect x="334.06" y="335.6" width="27.22" height="10.12" fill="#2fae4a"/>
<rect x="360.28" y="335.6" width="27.22" height="10.12" fill="#4a1010"/>
<rect x="386.5" y="335.6" width="27.22" height="10.12" fill="#0c140c"/>
<rect x="412.72" y="335.6" width="27.22" height="10.12" fill="#2a0808"/>
<rect x="438.94" y="335.6" width="27.22" height="10.12" fill="#1a0808"/>
<rect x="465.16" y="335.6" width="27.22" height="10.12" fill="#d8212a"/>
<rect x="491.38" y="335.6" width="27.22" height="10.12" fill="#1a5a2a"/>
<rect x="255.4" y="344.72" width="27.22" height="10.12" fill="#1c9a45"/>
<rect x="281.62" y="344.72" width="27.22" height="10.12" fill="#1c9a45"/>
<rect x="307.84" y="344.72" width="27.22" height="10.12" fill="#1c9a45"/>
<rect x="334.06" y="344.72" width="27.22" height="10.12" fill="#1c9a45"/>
<rect x="360.28" y="344.72" width="27.22" height="10.12" fill="#8a1418"/>
<rect x="386.5" y="344.72" width="27.22" height="10.12" fill="#1a4022"/>
<rect x="412.72" y="344.72" width="27.22" height="10.12" fill="#1a3a1a"/>
<rect x="438.94" y="344.72" width="27.22" height="10.12" fill="#1a3a1a"/>
<rect x="465.16" y="344.72" width="27.22" height="10.12" fill="#d8212a"/>
<rect x="491.38" y="344.72" width="27.22" height="10.12" fill="#1a4a22"/>
<rect x="255.4" y="353.84" width="27.22" height="10.12" fill="#1fac4a"/>
<rect x="281.62" y="353.84" width="27.22" height="10.12" fill="#1fac4a"/>
<rect x="307.84" y="353.84" width="27.22" height="10.12" fill="#22ad4a"/>
<rect x="334.06" y="353.84" width="27.22" height="10.12" fill="#24ad4a"/>
<rect x="360.28" y="353.84" width="27.22" height="10.12" fill="#1a2a1a"/>
<rect x="386.5" y="353.84" width="27.22" height="10.12" fill="#150808"/>
<rect x="412.72" y="353.84" width="27.22" height="10.12" fill="#7a1214"/>
<rect x="438.94" y="353.84" width="27.22" height="10.12" fill="#1a8040"/>
<rect x="465.16" y="353.84" width="27.22" height="10.12" fill="#d8212a"/>
<rect x="491.38" y="353.84" width="27.22" height="10.12" fill="#1a3a1a"/>
<rect x="255.4" y="362.96" width="27.22" height="10.12" fill="#22ae4a"/>
<rect x="281.62" y="362.96" width="27.22" height="10.12" fill="#22ae4a"/>
<rect x="307.84" y="362.96" width="27.22" height="10.12" fill="#22ae4a"/>
<rect x="334.06" y="362.96" width="27.22" height="10.12" fill="#24ae4a"/>
<rect x="360.28" y="362.96" width="27.22" height="10.12" fill="#1a7a3a"/>
<rect x="386.5" y="362.96" width="27.22" height="10.12" fill="#1a4a22"/>
<rect x="412.72" y="362.96" width="27.22" height="10.12" fill="#1a7a3a"/>
<rect x="438.94" y="362.96" width="27.22" height="10.12" fill="#8a1418"/>
<rect x="465.16" y="362.96" width="27.22" height="10.12" fill="#b82028"/>
<rect x="491.38" y="362.96" width="27.22" height="10.12" fill="#5a0c0c"/>
<rect x="255.4" y="372.08" width="27.22" height="10.12" fill="#62ba47"/>
<rect x="281.62" y="372.08" width="27.22" height="10.12" fill="#6abd45"/>
<rect x="307.84" y="372.08" width="27.22" height="10.12" fill="#6abd45"/>
<rect x="334.06" y="372.08" width="27.22" height="10.12" fill="#6abd45"/>
<rect x="360.28" y="372.08" width="27.22" height="10.12" fill="#6a0e10"/>
<rect x="386.5" y="372.08" width="27.22" height="10.12" fill="#200808"/>
<rect x="412.72" y="372.08" width="27.22" height="10.12" fill="#a81c22"/>
<rect x="438.94" y="372.08" width="27.22" height="10.12" fill="#2a0808"/>
<rect x="465.16" y="372.08" width="27.22" height="10.12" fill="#4a0c0c"/>
<rect x="491.38" y="372.08" width="27.22" height="10.12" fill="#102010"/>
<rect x="255.4" y="381.2" width="27.22" height="10.12" fill="#66bc46"/>
<rect x="281.62" y="381.2" width="27.22" height="10.12" fill="#6abd45"/>
<rect x="307.84" y="381.2" width="27.22" height="10.12" fill="#6abd45"/>
<rect x="334.06" y="381.2" width="27.22" height="10.12" fill="#6abd45"/>
<rect x="360.28" y="381.2" width="27.22" height="10.12" fill="#9a1418"/>
<rect x="386.5" y="381.2" width="27.22" height="10.12" fill="#1a3a1a"/>
<rect x="412.72" y="381.2" width="27.22" height="10.12" fill="#5a0c0c"/>
<rect x="438.94" y="381.2" width="27.22" height="10.12" fill="#200808"/>
<rect x="465.16" y="381.2" width="27.22" height="10.12" fill="#7a1214"/>
<rect x="491.38" y="381.2" width="27.22" height="10.12" fill="#2a0808"/>
<rect x="255.4" y="390.32" width="27.22" height="10.12" fill="#5cba47"/>
<rect x="281.62" y="390.32" width="27.22" height="10.12" fill="#60bb47"/>
<rect x="307.84" y="390.32" width="27.22" height="10.12" fill="#5cba47"/>
<rect x="334.06" y="390.32" width="27.22" height="10.12" fill="#5cba47"/>
<rect x="360.28" y="390.32" width="27.22" height="10.12" fill="#9a1418"/>
<rect x="386.5" y="390.32" width="27.22" height="10.12" fill="#5a0c0c"/>
<rect x="412.72" y="390.32" width="27.22" height="10.12" fill="#6a0e10"/>
<rect x="438.94" y="390.32" width="27.22" height="10.12" fill="#6a0e10"/>
<rect x="465.16" y="390.32" width="27.22" height="10.12" fill="#102010"/>
<rect x="491.38" y="390.32" width="27.22" height="10.12" fill="#1a9a48"/>
<rect x="255.4" y="399.44" width="27.22" height="10.12" fill="#66bc46"/>
<rect x="281.62" y="399.44" width="27.22" height="10.12" fill="#6abd45"/>
<rect x="307.84" y="399.44" width="27.22" height="10.12" fill="#66bc46"/>
<rect x="334.06" y="399.44" width="27.22" height="10.12" fill="#66bc46"/>
<rect x="360.28" y="399.44" width="27.22" height="10.12" fill="#0a0a0a"/>
<rect x="386.5" y="399.44" width="27.22" height="10.12" fill="#c41c24"/>
<rect x="412.72" y="399.44" width="27.22" height="10.12" fill="#6a0e10"/>
<rect x="438.94" y="399.44" width="27.22" height="10.12" fill="#3a0a0a"/>
<rect x="465.16" y="399.44" width="27.22" height="10.12" fill="#3a0a0a"/>
<rect x="491.38" y="399.44" width="27.22" height="10.12" fill="#1a8a40"/>
<rect x="255.4" y="408.56" width="27.22" height="10.12" fill="#6ebe45"/>
<rect x="281.62" y="408.56" width="27.22" height="10.12" fill="#6ebe45"/>
<rect x="307.84" y="408.56" width="27.22" height="10.12" fill="#6ebe45"/>
<rect x="334.06" y="408.56" width="27.22" height="10.12" fill="#6ebe45"/>
<rect x="360.28" y="408.56" width="27.22" height="10.12" fill="#3a0a0a"/>
<rect x="386.5" y="408.56" width="27.22" height="10.12" fill="#a01820"/>
<rect x="412.72" y="408.56" width="27.22" height="10.12" fill="#4a0c0c"/>
<rect x="438.94" y="408.56" width="27.22" height="10.12" fill="#5a0c0c"/>
<rect x="465.16" y="408.56" width="27.22" height="10.12" fill="#5a0c0c"/>
<rect x="491.38" y="408.56" width="27.22" height="10.12" fill="#1a8a40"/>
<rect x="255.4" y="417.68" width="27.22" height="10.12" fill="#22ae4a"/>
<rect x="281.62" y="417.68" width="27.22" height="10.12" fill="#22ae4a"/>
<rect x="307.84" y="417.68" width="27.22" height="10.12" fill="#22ae4a"/>
<rect x="334.06" y="417.68" width="27.22" height="10.12" fill="#22ae4a"/>
<rect x="360.28" y="417.68" width="27.22" height="10.12" fill="#3a0a0a"/>
<rect x="386.5" y="417.68" width="27.22" height="10.12" fill="#1a5a2a"/>
<rect x="412.72" y="417.68" width="27.22" height="10.12" fill="#4a0c0c"/>
<rect x="438.94" y="417.68" width="27.22" height="10.12" fill="#e0202a"/>
<rect x="465.16" y="417.68" width="27.22" height="10.12" fill="#102010"/>
<rect x="491.38" y="417.68" width="27.22" height="10.12" fill="#1a8a40"/>
<rect x="255.4" y="426.8" width="27.22" height="10.12" fill="#186a35"/>
<rect x="281.62" y="426.8" width="27.22" height="10.12" fill="#186a35"/>
<rect x="307.84" y="426.8" width="27.22" height="10.12" fill="#186a35"/>
<rect x="334.06" y="426.8" width="27.22" height="10.12" fill="#186a35"/>
<rect x="360.28" y="426.8" width="27.22" height="10.12" fill="#1a4a22"/>
<rect x="386.5" y="426.8" width="27.22" height="10.12" fill="#1a6a30"/>
<rect x="412.72" y="426.8" width="27.22" height="10.12" fill="#1a6a30"/>
<rect x="438.94" y="426.8" width="27.22" height="10.12" fill="#1a7a3a"/>
<rect x="465.16" y="426.8" width="27.22" height="10.12" fill="#200808"/>
<rect x="491.38" y="426.8" width="27.22" height="10.12" fill="#e8202a"/>
</g>
<text x="254.4" y="342.3" font-size="5.5" font-weight="bold" text-anchor="end" fill="#1a1a1a">CD109</text>
<text x="254.4" y="351.42" font-size="5.5" font-weight="bold" text-anchor="end" fill="#1a1a1a">HAS3</text>
<text x="254.4" y="360.54" font-size="5.5" font-weight="bold" text-anchor="end" fill="#1a1a1a">EMP1</text>
<text x="254.4" y="369.66" font-size="5.5" font-weight="bold" text-anchor="end" fill="#1a1a1a">VIM</text>
<text x="254.4" y="378.78" font-size="5.5" font-weight="bold" text-anchor="end" fill="#1a1a1a">AHNAK2</text>
<text x="254.4" y="387.9" font-size="5.5" font-weight="bold" text-anchor="end" fill="#1a1a1a">S100A6</text>
<text x="254.4" y="397.02" font-size="5.5" font-weight="bold" text-anchor="end" fill="#1a1a1a">TGFBR2</text>
<text x="254.4" y="406.14" font-size="5.5" font-weight="bold" text-anchor="end" fill="#1a1a1a">ANXA2P2</text>
<text x="254.4" y="415.26" font-size="5.5" font-weight="bold" text-anchor="end" fill="#1a1a1a">ANXA2</text>
<text x="254.4" y="424.38" font-size="5.5" font-weight="bold" text-anchor="end" fill="#1a1a1a">LOXL2</text>
<text x="254.4" y="433.5" font-size="5.5" font-weight="bold" text-anchor="end" fill="#1a1a1a">CD55</text>
<path d="M229.8 349.28H228.47 M229.8 358.4H228.47 M228.47 349.28V358.4 M229.8 340.16H227.67 M228.47 353.84H227.67 M227.67 340.16V353.84 M229.8 367.52H228.46 M229.8 376.64H228.46 M228.46 367.52V376.64 M229.8 385.76H228.57 M229.8 394.88H228.57 M228.57 385.76V394.88 M228.46 372.08H227.66 M228.57 390.32H227.66 M227.66 372.08V390.32 M229.8 413.12H228.4 M229.8 422.24H228.4 M228.4 413.12V422.24 M229.8 404H227.6 M228.4 417.68H227.6 M227.6 404V417.68 M227.66 381.2H226.8 M227.6 410.84H226.8 M226.8 381.2V410.84 M227.67 347H226 M226.8 396.02H226 M226 347V396.02" stroke="#f0a090" stroke-width="0.6" fill="none"/>
<path d="M229.8 431.36H223.3V371.51H226" stroke="#b8c4e8" stroke-width="0.6" fill="none"/>
</svg></body></html>
